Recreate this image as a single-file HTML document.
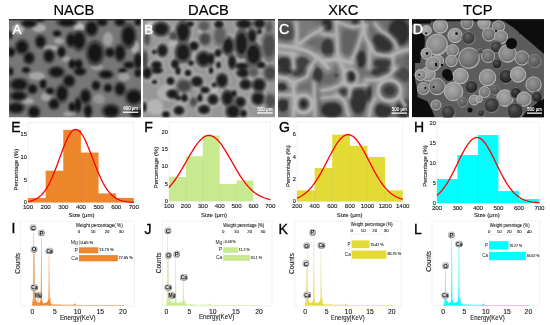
<!DOCTYPE html>
<html><head><meta charset="utf-8"><title>Figure</title>
<style>
html,body{margin:0;padding:0;background:#fff;width:550px;height:325px;overflow:hidden}
svg{display:block}
text{font-family:"Liberation Sans", Arial, sans-serif}
</style></head><body>
<svg width="550" height="325" viewBox="0 0 550 325">
<text x="73.8" y="15.4" font-size="14.7" text-anchor="middle" fill="#000" stroke="#000" stroke-width="0.15">NACB</text>
<text x="208.5" y="15.4" font-size="14.7" text-anchor="middle" fill="#000" stroke="#000" stroke-width="0.15">DACB</text>
<text x="343.3" y="15.4" font-size="14.7" text-anchor="middle" fill="#000" stroke="#000" stroke-width="0.15">XKC</text>
<text x="477.8" y="15.4" font-size="14.7" text-anchor="middle" fill="#000" stroke="#000" stroke-width="0.15">TCP</text>
<defs><filter id="semblur" x="-5%" y="-5%" width="110%" height="110%"><feGaussianBlur stdDeviation="0.9"/></filter><filter id="semnoise" x="0" y="0" width="100%" height="100%"><feTurbulence type="fractalNoise" baseFrequency="0.35" numOctaves="2" seed="3"/><feColorMatrix type="matrix" values="0 0 0 0 0.5  0 0 0 0 0.5  0 0 0 0 0.5  1.2 1.2 0 0 -0.9"/></filter><radialGradient id="sph" cx="42%" cy="38%" r="62%"><stop offset="0" stop-color="#fff" stop-opacity="0.22"/><stop offset="0.5" stop-color="#fff" stop-opacity="0.05"/><stop offset="0.8" stop-color="#000" stop-opacity="0.12"/><stop offset="1" stop-color="#fff" stop-opacity="0.3"/></radialGradient><filter id="semblur2" x="-5%" y="-5%" width="110%" height="110%"><feGaussianBlur stdDeviation="0.45"/></filter></defs>
<clipPath id="clipA"><rect x="0" y="0" width="132" height="98.5"/></clipPath>
<g transform="translate(9,19)"><g clip-path="url(#clipA)">
<rect x="0" y="0" width="132" height="98.5" fill="#767676"/>
<g filter="url(#semblur)">
<ellipse cx="9" cy="10" rx="6" ry="5" fill="#afafaf"/>
<ellipse cx="30" cy="9" rx="7" ry="4" fill="#aaaaaa"/>
<ellipse cx="42" cy="29" rx="7" ry="2.5" fill="#afafaf"/>
<ellipse cx="50" cy="22" rx="5" ry="3" fill="#a5a5a5"/>
<ellipse cx="70" cy="8" rx="5" ry="4" fill="#bebebe"/>
<ellipse cx="99" cy="20" rx="5" ry="7" fill="#a0a0a0"/>
<ellipse cx="126" cy="28" rx="4" ry="7" fill="#afafaf"/>
<ellipse cx="28" cy="57" rx="8" ry="4" fill="#a5a5a5"/>
<ellipse cx="19" cy="82" rx="6" ry="3" fill="#aaaaaa"/>
<ellipse cx="60" cy="95" rx="6" ry="2.5" fill="#a0a0a0"/>
<ellipse cx="90" cy="80" rx="6" ry="5" fill="#969696"/>
<ellipse cx="115" cy="58" rx="6" ry="4" fill="#a0a0a0"/>
<ellipse cx="37" cy="78" rx="5" ry="4" fill="#a5a5a5"/>
<ellipse cx="88" cy="48" rx="6" ry="3" fill="#a0a0a0"/>
<ellipse cx="57" cy="40" rx="4" ry="3" fill="#a0a0a0"/>
<ellipse cx="20" cy="4.5" rx="9.1" ry="4.9" fill="#474747"/>
<ellipse cx="30.5" cy="1" rx="6.3" ry="2.1" fill="#474747"/>
<ellipse cx="58" cy="3.5" rx="11.2" ry="4.9" fill="#474747"/>
<ellipse cx="13" cy="28" rx="7.7" ry="8.4" fill="#474747"/>
<ellipse cx="31.5" cy="22.5" rx="6.3" ry="7.42" fill="#474747"/>
<ellipse cx="2" cy="33" rx="4.9" ry="5.6" fill="#474747"/>
<ellipse cx="20" cy="39" rx="6.3" ry="7" fill="#474747"/>
<ellipse cx="48" cy="14.5" rx="4.9" ry="3.78" fill="#474747"/>
<ellipse cx="62" cy="21" rx="5.6" ry="8.4" fill="#474747"/>
<ellipse cx="40" cy="37" rx="6.3" ry="7.7" fill="#474747"/>
<ellipse cx="52.5" cy="33" rx="4.9" ry="6.3" fill="#474747"/>
<ellipse cx="63" cy="45" rx="4.2" ry="5.6" fill="#474747"/>
<ellipse cx="1.5" cy="16" rx="2.1" ry="4.9" fill="#474747"/>
<ellipse cx="70" cy="21.5" rx="7.7" ry="11.2" fill="#474747"/>
<ellipse cx="82.5" cy="9.5" rx="7.42" ry="8.96" fill="#474747"/>
<ellipse cx="93" cy="3" rx="6.3" ry="4.9" fill="#474747"/>
<ellipse cx="111" cy="3" rx="6.3" ry="4.9" fill="#474747"/>
<ellipse cx="86" cy="34" rx="9.8" ry="13.3" fill="#474747"/>
<ellipse cx="119.5" cy="17" rx="8.4" ry="13.3" fill="#474747"/>
<ellipse cx="101" cy="33.5" rx="5.6" ry="5.6" fill="#474747"/>
<ellipse cx="111" cy="34" rx="6.3" ry="9.8" fill="#474747"/>
<ellipse cx="129" cy="42" rx="4.9" ry="9.8" fill="#474747"/>
<ellipse cx="69.5" cy="45" rx="4.9" ry="5.6" fill="#474747"/>
<ellipse cx="120" cy="46" rx="6.3" ry="4.2" fill="#474747"/>
<ellipse cx="129" cy="3" rx="4.2" ry="4.2" fill="#474747"/>
<ellipse cx="47.5" cy="53" rx="9.1" ry="6.3" fill="#474747"/>
<ellipse cx="10" cy="65.5" rx="10.5" ry="7" fill="#474747"/>
<ellipse cx="9.5" cy="77" rx="9.8" ry="5.6" fill="#474747"/>
<ellipse cx="7" cy="89" rx="9.8" ry="6.3" fill="#474747"/>
<ellipse cx="23.5" cy="70" rx="5.6" ry="5.6" fill="#474747"/>
<ellipse cx="34" cy="65" rx="4.2" ry="5.6" fill="#474747"/>
<ellipse cx="41" cy="72" rx="4.9" ry="4.2" fill="#474747"/>
<ellipse cx="53" cy="74.5" rx="7" ry="9.8" fill="#474747"/>
<ellipse cx="45" cy="85" rx="6.3" ry="6.3" fill="#474747"/>
<ellipse cx="60" cy="62" rx="7" ry="7" fill="#474747"/>
<ellipse cx="63" cy="88" rx="4.2" ry="5.6" fill="#474747"/>
<ellipse cx="25" cy="93" rx="7" ry="7" fill="#474747"/>
<ellipse cx="2" cy="52.5" rx="2.8" ry="4.9" fill="#474747"/>
<ellipse cx="17" cy="51" rx="4.9" ry="3.5" fill="#474747"/>
<ellipse cx="71" cy="52.5" rx="7" ry="4.9" fill="#474747"/>
<ellipse cx="97" cy="55.5" rx="8.4" ry="4.9" fill="#474747"/>
<ellipse cx="87" cy="66.5" rx="4.9" ry="5.6" fill="#474747"/>
<ellipse cx="99" cy="69" rx="4.9" ry="4.9" fill="#474747"/>
<ellipse cx="111" cy="70" rx="6.3" ry="7.7" fill="#474747"/>
<ellipse cx="76.5" cy="77.5" rx="6.3" ry="8.4" fill="#474747"/>
<ellipse cx="69" cy="86" rx="4.2" ry="9.1" fill="#474747"/>
<ellipse cx="79" cy="92" rx="4.9" ry="7.7" fill="#474747"/>
<ellipse cx="102" cy="92" rx="9.8" ry="7.7" fill="#474747"/>
<ellipse cx="125" cy="78" rx="9.8" ry="9.1" fill="#474747"/>
<ellipse cx="113.5" cy="51.5" rx="4.9" ry="2.8" fill="#474747"/>
<ellipse cx="129" cy="54" rx="4.2" ry="4.9" fill="#474747"/>
<ellipse cx="127" cy="94" rx="7" ry="5.6" fill="#474747"/>
<ellipse cx="20" cy="4.5" rx="6.5" ry="3.5" fill="#191919"/>
<ellipse cx="30.5" cy="1" rx="4.5" ry="1.5" fill="#191919"/>
<ellipse cx="58" cy="3.5" rx="8" ry="3.5" fill="#191919"/>
<ellipse cx="13" cy="28" rx="5.5" ry="6" fill="#191919"/>
<ellipse cx="31.5" cy="22.5" rx="4.5" ry="5.3" fill="#191919"/>
<ellipse cx="2" cy="33" rx="3.5" ry="4" fill="#191919"/>
<ellipse cx="20" cy="39" rx="4.5" ry="5" fill="#191919"/>
<ellipse cx="48" cy="14.5" rx="3.5" ry="2.7" fill="#191919"/>
<ellipse cx="62" cy="21" rx="4" ry="6" fill="#191919"/>
<ellipse cx="40" cy="37" rx="4.5" ry="5.5" fill="#191919"/>
<ellipse cx="52.5" cy="33" rx="3.5" ry="4.5" fill="#191919"/>
<ellipse cx="63" cy="45" rx="3" ry="4" fill="#191919"/>
<ellipse cx="1.5" cy="16" rx="1.5" ry="3.5" fill="#191919"/>
<ellipse cx="70" cy="21.5" rx="5.5" ry="8" fill="#191919"/>
<ellipse cx="82.5" cy="9.5" rx="5.3" ry="6.4" fill="#191919"/>
<ellipse cx="93" cy="3" rx="4.5" ry="3.5" fill="#191919"/>
<ellipse cx="111" cy="3" rx="4.5" ry="3.5" fill="#191919"/>
<ellipse cx="86" cy="34" rx="7" ry="9.5" fill="#191919"/>
<ellipse cx="119.5" cy="17" rx="6" ry="9.5" fill="#191919"/>
<ellipse cx="101" cy="33.5" rx="4" ry="4" fill="#191919"/>
<ellipse cx="111" cy="34" rx="4.5" ry="7" fill="#191919"/>
<ellipse cx="129" cy="42" rx="3.5" ry="7" fill="#191919"/>
<ellipse cx="69.5" cy="45" rx="3.5" ry="4" fill="#191919"/>
<ellipse cx="120" cy="46" rx="4.5" ry="3" fill="#191919"/>
<ellipse cx="129" cy="3" rx="3" ry="3" fill="#191919"/>
<ellipse cx="47.5" cy="53" rx="6.5" ry="4.5" fill="#191919"/>
<ellipse cx="10" cy="65.5" rx="7.5" ry="5" fill="#191919"/>
<ellipse cx="9.5" cy="77" rx="7" ry="4" fill="#191919"/>
<ellipse cx="7" cy="89" rx="7" ry="4.5" fill="#191919"/>
<ellipse cx="23.5" cy="70" rx="4" ry="4" fill="#191919"/>
<ellipse cx="34" cy="65" rx="3" ry="4" fill="#191919"/>
<ellipse cx="41" cy="72" rx="3.5" ry="3" fill="#191919"/>
<ellipse cx="53" cy="74.5" rx="5" ry="7" fill="#191919"/>
<ellipse cx="45" cy="85" rx="4.5" ry="4.5" fill="#191919"/>
<ellipse cx="60" cy="62" rx="5" ry="5" fill="#191919"/>
<ellipse cx="63" cy="88" rx="3" ry="4" fill="#191919"/>
<ellipse cx="25" cy="93" rx="5" ry="5" fill="#191919"/>
<ellipse cx="2" cy="52.5" rx="2" ry="3.5" fill="#191919"/>
<ellipse cx="17" cy="51" rx="3.5" ry="2.5" fill="#191919"/>
<ellipse cx="71" cy="52.5" rx="5" ry="3.5" fill="#191919"/>
<ellipse cx="97" cy="55.5" rx="6" ry="3.5" fill="#191919"/>
<ellipse cx="87" cy="66.5" rx="3.5" ry="4" fill="#191919"/>
<ellipse cx="99" cy="69" rx="3.5" ry="3.5" fill="#191919"/>
<ellipse cx="111" cy="70" rx="4.5" ry="5.5" fill="#191919"/>
<ellipse cx="76.5" cy="77.5" rx="4.5" ry="6" fill="#191919"/>
<ellipse cx="69" cy="86" rx="3" ry="6.5" fill="#191919"/>
<ellipse cx="79" cy="92" rx="3.5" ry="5.5" fill="#191919"/>
<ellipse cx="102" cy="92" rx="7" ry="5.5" fill="#191919"/>
<ellipse cx="125" cy="78" rx="7" ry="6.5" fill="#191919"/>
<ellipse cx="113.5" cy="51.5" rx="3.5" ry="2" fill="#191919"/>
<ellipse cx="129" cy="54" rx="3" ry="3.5" fill="#191919"/>
<ellipse cx="127" cy="94" rx="5" ry="4" fill="#191919"/>

</g>
<rect x="0" y="0" width="132" height="1.4" fill="#262626" opacity="0.85"/>
</g>
<text x="3.5" y="14.5" font-size="13.5" fill="#fff" stroke="#fff" stroke-width="0.4">A</text>
<text x="121.65" y="91.4" font-size="4.6" text-anchor="middle" fill="#fff" stroke="#fff" stroke-width="0.12" textLength="14.8" lengthAdjust="spacingAndGlyphs">400 μm</text>
<rect x="114" y="92.6" width="15.3" height="1.25" fill="#fff"/>
</g>
<clipPath id="clipB"><rect x="0" y="0" width="132" height="98.5"/></clipPath>
<g transform="translate(143,19)"><g clip-path="url(#clipB)">
<rect x="0" y="0" width="132" height="98.5" fill="#969696"/>
<g filter="url(#semblur)">
<ellipse cx="8" cy="8" rx="5" ry="6" fill="#c8c8c8"/>
<ellipse cx="60" cy="12" rx="5" ry="3" fill="#bebebe"/>
<ellipse cx="30" cy="24" rx="4" ry="4" fill="#b4b4b4"/>
<ellipse cx="22" cy="74" rx="8" ry="8" fill="#afafaf"/>
<ellipse cx="12" cy="88" rx="8" ry="8" fill="#b4b4b4"/>
<ellipse cx="100" cy="40" rx="4" ry="3" fill="#b9b9b9"/>
<ellipse cx="70" cy="72" rx="5" ry="4" fill="#b9b9b9"/>
<ellipse cx="18" cy="10" rx="10.36" ry="9.2" fill="none" stroke="#c3c3c3" stroke-width="1.3"/>
<ellipse cx="40" cy="13" rx="9.2" ry="13.55" fill="none" stroke="#c3c3c3" stroke-width="1.3"/>
<ellipse cx="47" cy="5" rx="5.43" ry="4.27" fill="none" stroke="#c3c3c3" stroke-width="1.3"/>
<ellipse cx="19.5" cy="31.5" rx="7.02" ry="8.18" fill="none" stroke="#c3c3c3" stroke-width="1.3"/>
<ellipse cx="40" cy="33.5" rx="9.92" ry="12.1" fill="none" stroke="#c3c3c3" stroke-width="1.3"/>
<ellipse cx="51" cy="27" rx="6.3" ry="6.3" fill="none" stroke="#c3c3c3" stroke-width="1.3"/>
<ellipse cx="60.5" cy="40" rx="9.2" ry="9.92" fill="none" stroke="#c3c3c3" stroke-width="1.3"/>
<ellipse cx="13.5" cy="46" rx="7.02" ry="5.58" fill="none" stroke="#c3c3c3" stroke-width="1.3"/>
<ellipse cx="32" cy="45" rx="5.58" ry="6.3" fill="none" stroke="#c3c3c3" stroke-width="1.3"/>
<ellipse cx="48" cy="44" rx="4.12" ry="4.12" fill="none" stroke="#c3c3c3" stroke-width="1.3"/>
<ellipse cx="11" cy="33" rx="3.4" ry="3.69" fill="none" stroke="#c3c3c3" stroke-width="1.3"/>
<ellipse cx="76" cy="5.5" rx="6.3" ry="5.58" fill="none" stroke="#c3c3c3" stroke-width="1.3"/>
<ellipse cx="101" cy="5" rx="9.92" ry="6.3" fill="none" stroke="#c3c3c3" stroke-width="1.3"/>
<ellipse cx="116.5" cy="4.5" rx="7.75" ry="6.3" fill="none" stroke="#c3c3c3" stroke-width="1.3"/>
<ellipse cx="98.5" cy="24.5" rx="8.47" ry="16.45" fill="none" stroke="#c3c3c3" stroke-width="1.3"/>
<ellipse cx="85" cy="27" rx="7.75" ry="11.38" fill="none" stroke="#c3c3c3" stroke-width="1.3"/>
<ellipse cx="109" cy="17" rx="6.01" ry="9.2" fill="none" stroke="#c3c3c3" stroke-width="1.3"/>
<ellipse cx="110.5" cy="35.5" rx="9.92" ry="14.28" fill="none" stroke="#c3c3c3" stroke-width="1.3"/>
<ellipse cx="116.5" cy="12.5" rx="3.69" ry="4.12" fill="none" stroke="#c3c3c3" stroke-width="1.3"/>
<ellipse cx="75" cy="34" rx="4.85" ry="5.58" fill="none" stroke="#c3c3c3" stroke-width="1.3"/>
<ellipse cx="89" cy="43" rx="5.58" ry="9.2" fill="none" stroke="#c3c3c3" stroke-width="1.3"/>
<ellipse cx="68" cy="40" rx="4.85" ry="7.75" fill="none" stroke="#c3c3c3" stroke-width="1.3"/>
<ellipse cx="99" cy="47" rx="9.2" ry="4.85" fill="none" stroke="#c3c3c3" stroke-width="1.3"/>
<ellipse cx="118" cy="46" rx="6.01" ry="4.85" fill="none" stroke="#c3c3c3" stroke-width="1.3"/>
<ellipse cx="75.5" cy="46" rx="3.69" ry="4.85" fill="none" stroke="#c3c3c3" stroke-width="1.3"/>
<ellipse cx="4" cy="54" rx="6.3" ry="7.75" fill="none" stroke="#c3c3c3" stroke-width="1.3"/>
<ellipse cx="14" cy="51.5" rx="7.75" ry="4.85" fill="none" stroke="#c3c3c3" stroke-width="1.3"/>
<ellipse cx="27.5" cy="62" rx="5.58" ry="5.58" fill="none" stroke="#c3c3c3" stroke-width="1.3"/>
<ellipse cx="11.5" cy="63" rx="4.12" ry="3.4" fill="none" stroke="#c3c3c3" stroke-width="1.3"/>
<ellipse cx="29.5" cy="75" rx="7.75" ry="6.3" fill="none" stroke="#c3c3c3" stroke-width="1.3"/>
<ellipse cx="54" cy="62.5" rx="7.75" ry="7.02" fill="none" stroke="#c3c3c3" stroke-width="1.3"/>
<ellipse cx="35" cy="52" rx="4.12" ry="5.58" fill="none" stroke="#c3c3c3" stroke-width="1.3"/>
<ellipse cx="45" cy="54" rx="4.85" ry="4.85" fill="none" stroke="#c3c3c3" stroke-width="1.3"/>
<ellipse cx="35" cy="79" rx="4.27" ry="3.83" fill="none" stroke="#c3c3c3" stroke-width="1.3"/>
<ellipse cx="41.5" cy="79" rx="4.85" ry="5.58" fill="none" stroke="#c3c3c3" stroke-width="1.3"/>
<ellipse cx="57" cy="79" rx="4.12" ry="5.58" fill="none" stroke="#c3c3c3" stroke-width="1.3"/>
<ellipse cx="62" cy="71" rx="6.3" ry="4.85" fill="none" stroke="#c3c3c3" stroke-width="1.3"/>
<ellipse cx="36" cy="91.5" rx="7.02" ry="6.3" fill="none" stroke="#c3c3c3" stroke-width="1.3"/>
<ellipse cx="61" cy="90.5" rx="7.75" ry="6.3" fill="none" stroke="#c3c3c3" stroke-width="1.3"/>
<ellipse cx="1.8" cy="88" rx="3.11" ry="7.02" fill="none" stroke="#c3c3c3" stroke-width="1.3"/>
<ellipse cx="23" cy="95.5" rx="5.58" ry="4.85" fill="none" stroke="#c3c3c3" stroke-width="1.3"/>
<ellipse cx="79" cy="61.5" rx="7.75" ry="9.2" fill="none" stroke="#c3c3c3" stroke-width="1.3"/>
<ellipse cx="100" cy="54" rx="8.47" ry="6.3" fill="none" stroke="#c3c3c3" stroke-width="1.3"/>
<ellipse cx="102.5" cy="65.5" rx="7.75" ry="7.02" fill="none" stroke="#c3c3c3" stroke-width="1.3"/>
<ellipse cx="116" cy="66" rx="8.47" ry="8.47" fill="none" stroke="#c3c3c3" stroke-width="1.3"/>
<ellipse cx="84.5" cy="79" rx="7.75" ry="9.92" fill="none" stroke="#c3c3c3" stroke-width="1.3"/>
<ellipse cx="91" cy="74.5" rx="4.12" ry="4.85" fill="none" stroke="#c3c3c3" stroke-width="1.3"/>
<ellipse cx="97.5" cy="83" rx="7.02" ry="7.02" fill="none" stroke="#c3c3c3" stroke-width="1.3"/>
<ellipse cx="115" cy="79.5" rx="8.47" ry="8.47" fill="none" stroke="#c3c3c3" stroke-width="1.3"/>
<ellipse cx="90" cy="92.5" rx="9.2" ry="9.2" fill="none" stroke="#c3c3c3" stroke-width="1.3"/>
<ellipse cx="70" cy="80.5" rx="7.02" ry="7.02" fill="none" stroke="#c3c3c3" stroke-width="1.3"/>
<ellipse cx="71" cy="66" rx="3.69" ry="3.83" fill="none" stroke="#c3c3c3" stroke-width="1.3"/>
<ellipse cx="68" cy="51.5" rx="3.69" ry="4.85" fill="none" stroke="#c3c3c3" stroke-width="1.3"/>
<ellipse cx="100.5" cy="94.5" rx="4.85" ry="5.58" fill="none" stroke="#c3c3c3" stroke-width="1.3"/>
<ellipse cx="18" cy="10" rx="9.86" ry="8.7" fill="#595959"/>
<ellipse cx="40" cy="13" rx="8.7" ry="13.05" fill="#595959"/>
<ellipse cx="47" cy="5" rx="4.93" ry="3.77" fill="#595959"/>
<ellipse cx="19.5" cy="31.5" rx="6.52" ry="7.68" fill="#595959"/>
<ellipse cx="40" cy="33.5" rx="9.42" ry="11.6" fill="#595959"/>
<ellipse cx="51" cy="27" rx="5.8" ry="5.8" fill="#595959"/>
<ellipse cx="60.5" cy="40" rx="8.7" ry="9.42" fill="#595959"/>
<ellipse cx="62" cy="20" rx="6.52" ry="7.25" fill="#6e6e6e"/>
<ellipse cx="61" cy="7" rx="6.52" ry="5.8" fill="#787878"/>
<ellipse cx="13.5" cy="46" rx="6.52" ry="5.08" fill="#595959"/>
<ellipse cx="32" cy="45" rx="5.08" ry="5.8" fill="#595959"/>
<ellipse cx="48" cy="44" rx="3.62" ry="3.62" fill="#595959"/>
<ellipse cx="4" cy="20" rx="3.62" ry="7.25" fill="#737373"/>
<ellipse cx="11" cy="33" rx="2.9" ry="3.19" fill="#595959"/>
<ellipse cx="30.5" cy="17" rx="5.08" ry="5.08" fill="#737373"/>
<ellipse cx="2" cy="41" rx="3.19" ry="11.6" fill="#6e6e6e"/>
<ellipse cx="76" cy="5.5" rx="5.8" ry="5.08" fill="#595959"/>
<ellipse cx="101" cy="5" rx="9.42" ry="5.8" fill="#595959"/>
<ellipse cx="116.5" cy="4.5" rx="7.25" ry="5.8" fill="#595959"/>
<ellipse cx="98.5" cy="24.5" rx="7.97" ry="15.95" fill="#595959"/>
<ellipse cx="85" cy="27" rx="7.25" ry="10.88" fill="#595959"/>
<ellipse cx="109" cy="17" rx="5.51" ry="8.7" fill="#595959"/>
<ellipse cx="110.5" cy="35.5" rx="9.42" ry="13.78" fill="#595959"/>
<ellipse cx="116.5" cy="12.5" rx="3.19" ry="3.62" fill="#595959"/>
<ellipse cx="126" cy="27" rx="7.97" ry="15.95" fill="#707070"/>
<ellipse cx="75" cy="34" rx="4.35" ry="5.08" fill="#595959"/>
<ellipse cx="89" cy="43" rx="5.08" ry="8.7" fill="#595959"/>
<ellipse cx="68" cy="40" rx="4.35" ry="7.25" fill="#595959"/>
<ellipse cx="99" cy="47" rx="8.7" ry="4.35" fill="#595959"/>
<ellipse cx="118" cy="46" rx="5.51" ry="4.35" fill="#595959"/>
<ellipse cx="77" cy="17" rx="7.25" ry="11.6" fill="#7a7a7a"/>
<ellipse cx="126" cy="8" rx="4.35" ry="7.25" fill="#787878"/>
<ellipse cx="75.5" cy="46" rx="3.19" ry="4.35" fill="#595959"/>
<ellipse cx="4" cy="54" rx="5.8" ry="7.25" fill="#595959"/>
<ellipse cx="14" cy="51.5" rx="7.25" ry="4.35" fill="#595959"/>
<ellipse cx="27.5" cy="62" rx="5.08" ry="5.08" fill="#595959"/>
<ellipse cx="11.5" cy="63" rx="3.62" ry="2.9" fill="#595959"/>
<ellipse cx="29.5" cy="75" rx="7.25" ry="5.8" fill="#595959"/>
<ellipse cx="41" cy="67" rx="8.7" ry="7.25" fill="#6e6e6e"/>
<ellipse cx="54" cy="62.5" rx="7.25" ry="6.52" fill="#595959"/>
<ellipse cx="35" cy="52" rx="3.62" ry="5.08" fill="#595959"/>
<ellipse cx="45" cy="54" rx="4.35" ry="4.35" fill="#595959"/>
<ellipse cx="35" cy="79" rx="3.77" ry="3.33" fill="#595959"/>
<ellipse cx="41.5" cy="79" rx="4.35" ry="5.08" fill="#595959"/>
<ellipse cx="57" cy="79" rx="3.62" ry="5.08" fill="#595959"/>
<ellipse cx="62" cy="71" rx="5.8" ry="4.35" fill="#595959"/>
<ellipse cx="36" cy="91.5" rx="6.52" ry="5.8" fill="#595959"/>
<ellipse cx="61" cy="90.5" rx="7.25" ry="5.8" fill="#595959"/>
<ellipse cx="1.8" cy="88" rx="2.61" ry="6.52" fill="#595959"/>
<ellipse cx="23" cy="95.5" rx="5.08" ry="4.35" fill="#595959"/>
<ellipse cx="50.5" cy="83" rx="4.35" ry="5.51" fill="#737373"/>
<ellipse cx="79" cy="61.5" rx="7.25" ry="8.7" fill="#595959"/>
<ellipse cx="100" cy="54" rx="7.97" ry="5.8" fill="#595959"/>
<ellipse cx="102.5" cy="65.5" rx="7.25" ry="6.52" fill="#595959"/>
<ellipse cx="116" cy="66" rx="7.97" ry="7.97" fill="#595959"/>
<ellipse cx="84.5" cy="79" rx="7.25" ry="9.42" fill="#595959"/>
<ellipse cx="91" cy="74.5" rx="3.62" ry="4.35" fill="#595959"/>
<ellipse cx="97.5" cy="83" rx="6.52" ry="6.52" fill="#595959"/>
<ellipse cx="115" cy="79.5" rx="7.97" ry="7.97" fill="#595959"/>
<ellipse cx="90" cy="92.5" rx="8.7" ry="8.7" fill="#595959"/>
<ellipse cx="70" cy="80.5" rx="6.52" ry="6.52" fill="#595959"/>
<ellipse cx="71" cy="66" rx="3.19" ry="3.33" fill="#595959"/>
<ellipse cx="127" cy="54" rx="7.25" ry="8.7" fill="#6e6e6e"/>
<ellipse cx="127.5" cy="82" rx="6.52" ry="8.7" fill="#737373"/>
<ellipse cx="68" cy="51.5" rx="3.19" ry="4.35" fill="#595959"/>
<ellipse cx="100.5" cy="94.5" rx="4.35" ry="5.08" fill="#595959"/>
<ellipse cx="110.5" cy="53" rx="5.51" ry="5.51" fill="#787878"/>
<ellipse cx="18" cy="10" rx="6.8" ry="6" fill="#1c1c1c"/>
<ellipse cx="40" cy="13" rx="6" ry="9" fill="#1c1c1c"/>
<ellipse cx="47" cy="5" rx="3.4" ry="2.6" fill="#1c1c1c"/>
<ellipse cx="19.5" cy="31.5" rx="4.5" ry="5.3" fill="#1c1c1c"/>
<ellipse cx="40" cy="33.5" rx="6.5" ry="8" fill="#1c1c1c"/>
<ellipse cx="51" cy="27" rx="4" ry="4" fill="#1c1c1c"/>
<ellipse cx="60.5" cy="40" rx="6" ry="6.5" fill="#1c1c1c"/>
<ellipse cx="62" cy="20" rx="4.5" ry="5" fill="#464646"/>
<ellipse cx="61" cy="7" rx="4.5" ry="4" fill="#5a5a5a"/>
<ellipse cx="13.5" cy="46" rx="4.5" ry="3.5" fill="#1c1c1c"/>
<ellipse cx="32" cy="45" rx="3.5" ry="4" fill="#1c1c1c"/>
<ellipse cx="48" cy="44" rx="2.5" ry="2.5" fill="#1c1c1c"/>
<ellipse cx="4" cy="20" rx="2.5" ry="5" fill="#505050"/>
<ellipse cx="11" cy="33" rx="2" ry="2.2" fill="#1c1c1c"/>
<ellipse cx="30.5" cy="17" rx="3.5" ry="3.5" fill="#505050"/>
<ellipse cx="2" cy="41" rx="2.2" ry="8" fill="#464646"/>
<ellipse cx="76" cy="5.5" rx="4" ry="3.5" fill="#1c1c1c"/>
<ellipse cx="101" cy="5" rx="6.5" ry="4" fill="#1c1c1c"/>
<ellipse cx="116.5" cy="4.5" rx="5" ry="4" fill="#1c1c1c"/>
<ellipse cx="98.5" cy="24.5" rx="5.5" ry="11" fill="#1c1c1c"/>
<ellipse cx="85" cy="27" rx="5" ry="7.5" fill="#1c1c1c"/>
<ellipse cx="109" cy="17" rx="3.8" ry="6" fill="#1c1c1c"/>
<ellipse cx="110.5" cy="35.5" rx="6.5" ry="9.5" fill="#1c1c1c"/>
<ellipse cx="116.5" cy="12.5" rx="2.2" ry="2.5" fill="#1c1c1c"/>
<ellipse cx="126" cy="27" rx="5.5" ry="11" fill="#4b4b4b"/>
<ellipse cx="75" cy="34" rx="3" ry="3.5" fill="#1c1c1c"/>
<ellipse cx="89" cy="43" rx="3.5" ry="6" fill="#1c1c1c"/>
<ellipse cx="68" cy="40" rx="3" ry="5" fill="#1c1c1c"/>
<ellipse cx="99" cy="47" rx="6" ry="3" fill="#1c1c1c"/>
<ellipse cx="118" cy="46" rx="3.8" ry="3" fill="#1c1c1c"/>
<ellipse cx="77" cy="17" rx="5" ry="8" fill="#5f5f5f"/>
<ellipse cx="126" cy="8" rx="3" ry="5" fill="#5a5a5a"/>
<ellipse cx="75.5" cy="46" rx="2.2" ry="3" fill="#1c1c1c"/>
<ellipse cx="4" cy="54" rx="4" ry="5" fill="#1c1c1c"/>
<ellipse cx="14" cy="51.5" rx="5" ry="3" fill="#1c1c1c"/>
<ellipse cx="27.5" cy="62" rx="3.5" ry="3.5" fill="#1c1c1c"/>
<ellipse cx="11.5" cy="63" rx="2.5" ry="2" fill="#1c1c1c"/>
<ellipse cx="29.5" cy="75" rx="5" ry="4" fill="#1c1c1c"/>
<ellipse cx="41" cy="67" rx="6" ry="5" fill="#464646"/>
<ellipse cx="54" cy="62.5" rx="5" ry="4.5" fill="#1c1c1c"/>
<ellipse cx="35" cy="52" rx="2.5" ry="3.5" fill="#1c1c1c"/>
<ellipse cx="45" cy="54" rx="3" ry="3" fill="#1c1c1c"/>
<ellipse cx="35" cy="79" rx="2.6" ry="2.3" fill="#1c1c1c"/>
<ellipse cx="41.5" cy="79" rx="3" ry="3.5" fill="#1c1c1c"/>
<ellipse cx="57" cy="79" rx="2.5" ry="3.5" fill="#1c1c1c"/>
<ellipse cx="62" cy="71" rx="4" ry="3" fill="#1c1c1c"/>
<ellipse cx="36" cy="91.5" rx="4.5" ry="4" fill="#1c1c1c"/>
<ellipse cx="61" cy="90.5" rx="5" ry="4" fill="#1c1c1c"/>
<ellipse cx="1.8" cy="88" rx="1.8" ry="4.5" fill="#1c1c1c"/>
<ellipse cx="23" cy="95.5" rx="3.5" ry="3" fill="#1c1c1c"/>
<ellipse cx="50.5" cy="83" rx="3" ry="3.8" fill="#505050"/>
<ellipse cx="79" cy="61.5" rx="5" ry="6" fill="#1c1c1c"/>
<ellipse cx="100" cy="54" rx="5.5" ry="4" fill="#1c1c1c"/>
<ellipse cx="102.5" cy="65.5" rx="5" ry="4.5" fill="#1c1c1c"/>
<ellipse cx="116" cy="66" rx="5.5" ry="5.5" fill="#1c1c1c"/>
<ellipse cx="84.5" cy="79" rx="5" ry="6.5" fill="#1c1c1c"/>
<ellipse cx="91" cy="74.5" rx="2.5" ry="3" fill="#1c1c1c"/>
<ellipse cx="97.5" cy="83" rx="4.5" ry="4.5" fill="#1c1c1c"/>
<ellipse cx="115" cy="79.5" rx="5.5" ry="5.5" fill="#1c1c1c"/>
<ellipse cx="90" cy="92.5" rx="6" ry="6" fill="#1c1c1c"/>
<ellipse cx="70" cy="80.5" rx="4.5" ry="4.5" fill="#1c1c1c"/>
<ellipse cx="71" cy="66" rx="2.2" ry="2.3" fill="#1c1c1c"/>
<ellipse cx="127" cy="54" rx="5" ry="6" fill="#464646"/>
<ellipse cx="127.5" cy="82" rx="4.5" ry="6" fill="#505050"/>
<ellipse cx="68" cy="51.5" rx="2.2" ry="3" fill="#1c1c1c"/>
<ellipse cx="100.5" cy="94.5" rx="3" ry="3.5" fill="#1c1c1c"/>
<ellipse cx="110.5" cy="53" rx="3.8" ry="3.8" fill="#5a5a5a"/>

</g>
<rect x="0" y="0" width="132" height="1.4" fill="#262626" opacity="0.85"/>
</g>
<text x="1.3" y="14.5" font-size="13.5" fill="#fff" stroke="#fff" stroke-width="0.4">B</text>
<text x="121.9" y="92.1" font-size="4.6" text-anchor="middle" fill="#fff" stroke="#fff" stroke-width="0.12" textLength="14.9" lengthAdjust="spacingAndGlyphs">500 μm</text>
<rect x="114.2" y="93.3" width="15.4" height="1.25" fill="#fff"/>
</g>
<clipPath id="clipC"><rect x="0" y="0" width="131" height="98.5"/></clipPath>
<g transform="translate(278,19)"><g clip-path="url(#clipC)">
<rect x="0" y="0" width="131" height="98.5" fill="#6e6e6e"/>
<g filter="url(#semblur)">
<ellipse cx="8" cy="13" rx="10.2" ry="12" fill="#616161"/>
<ellipse cx="49" cy="6" rx="6.6" ry="7.2" fill="#515151"/>
<ellipse cx="50" cy="29" rx="7.2" ry="10.8" fill="#565656"/>
<ellipse cx="7" cy="44" rx="9" ry="7.2" fill="#545454"/>
<ellipse cx="24" cy="44" rx="8.4" ry="7.2" fill="#5b5b5b"/>
<ellipse cx="30" cy="20" rx="9.6" ry="6" fill="#6e6e6e"/>
<ellipse cx="28" cy="8" rx="10.8" ry="7.2" fill="#797979"/>
<ellipse cx="38" cy="43" rx="6" ry="6" fill="#696969"/>
<ellipse cx="72" cy="24" rx="12" ry="16.8" fill="#6e6e6e"/>
<ellipse cx="83" cy="40" rx="6" ry="9.6" fill="#515151"/>
<ellipse cx="81" cy="3" rx="8.4" ry="4.8" fill="#515151"/>
<ellipse cx="104" cy="25" rx="12" ry="12.6" fill="#545454"/>
<ellipse cx="121" cy="13" rx="12" ry="15.6" fill="#515151"/>
<ellipse cx="105" cy="44" rx="10.8" ry="6" fill="#565656"/>
<ellipse cx="129" cy="40" rx="3.6" ry="9.6" fill="#6e6e6e"/>
<ellipse cx="7" cy="52" rx="8.4" ry="4.8" fill="#545454"/>
<ellipse cx="22" cy="53" rx="8.4" ry="6" fill="#595959"/>
<ellipse cx="40" cy="56" rx="6" ry="8.4" fill="#565656"/>
<ellipse cx="4" cy="68" rx="5.4" ry="5.4" fill="#545454"/>
<ellipse cx="5" cy="86" rx="6" ry="7.8" fill="#545454"/>
<ellipse cx="25.5" cy="85" rx="6" ry="6.6" fill="#4c4c4c"/>
<ellipse cx="40" cy="80" rx="3.6" ry="12" fill="#6e6e6e"/>
<ellipse cx="72.6" cy="58.3" rx="7.2" ry="8.76" fill="#4e4e4e"/>
<ellipse cx="65.8" cy="72.7" rx="6.24" ry="5.88" fill="#545454"/>
<ellipse cx="80.3" cy="80.5" rx="9.6" ry="16.2" fill="#545454"/>
<ellipse cx="53.8" cy="91" rx="12" ry="8.4" fill="#515151"/>
<ellipse cx="52" cy="58" rx="8.4" ry="9.6" fill="#707070"/>
<ellipse cx="58.3" cy="56.2" rx="1.8" ry="1.8" fill="#4e4e4e"/>
<ellipse cx="104" cy="53.5" rx="12" ry="6" fill="#565656"/>
<ellipse cx="124" cy="56" rx="9.6" ry="8.4" fill="#5e5e5e"/>
<ellipse cx="91" cy="75" rx="3.6" ry="9.6" fill="#545454"/>
<ellipse cx="105" cy="91" rx="9.6" ry="8.4" fill="#545454"/>
<ellipse cx="125" cy="89" rx="8.4" ry="10.8" fill="#515151"/>
<ellipse cx="111.4" cy="71.5" rx="11.4" ry="10.2" fill="#565656"/>
<ellipse cx="8" cy="13" rx="8.5" ry="10" fill="#4b4b4b"/>
<ellipse cx="49" cy="6" rx="5.5" ry="6" fill="#2d2d2d"/>
<ellipse cx="50" cy="29" rx="6" ry="9" fill="#373737"/>
<ellipse cx="7" cy="44" rx="7.5" ry="6" fill="#323232"/>
<ellipse cx="24" cy="44" rx="7" ry="6" fill="#414141"/>
<ellipse cx="30" cy="20" rx="8" ry="5" fill="#646464"/>
<ellipse cx="28" cy="8" rx="9" ry="6" fill="#7a7a7a"/>
<ellipse cx="38" cy="43" rx="5" ry="5" fill="#5a5a5a"/>
<ellipse cx="72" cy="24" rx="10" ry="14" fill="#646464"/>
<ellipse cx="83" cy="40" rx="5" ry="8" fill="#2d2d2d"/>
<ellipse cx="81" cy="3" rx="7" ry="4" fill="#2d2d2d"/>
<ellipse cx="104" cy="25" rx="10" ry="10.5" fill="#323232"/>
<ellipse cx="121" cy="13" rx="10" ry="13" fill="#2d2d2d"/>
<ellipse cx="105" cy="44" rx="9" ry="5" fill="#373737"/>
<ellipse cx="129" cy="40" rx="3" ry="8" fill="#646464"/>
<ellipse cx="7" cy="52" rx="7" ry="4" fill="#323232"/>
<ellipse cx="22" cy="53" rx="7" ry="5" fill="#3c3c3c"/>
<ellipse cx="40" cy="56" rx="5" ry="7" fill="#373737"/>
<ellipse cx="4" cy="68" rx="4.5" ry="4.5" fill="#323232"/>
<ellipse cx="5" cy="86" rx="5" ry="6.5" fill="#323232"/>
<ellipse cx="25.5" cy="85" rx="5" ry="5.5" fill="#232323"/>
<ellipse cx="40" cy="80" rx="3" ry="10" fill="#646464"/>
<ellipse cx="72.6" cy="58.3" rx="6" ry="7.3" fill="#282828"/>
<ellipse cx="65.8" cy="72.7" rx="5.2" ry="4.9" fill="#323232"/>
<ellipse cx="80.3" cy="80.5" rx="8" ry="13.5" fill="#323232"/>
<ellipse cx="53.8" cy="91" rx="10" ry="7" fill="#2d2d2d"/>
<ellipse cx="52" cy="58" rx="7" ry="8" fill="#696969"/>
<ellipse cx="58.3" cy="56.2" rx="1.5" ry="1.5" fill="#282828"/>
<ellipse cx="104" cy="53.5" rx="10" ry="5" fill="#373737"/>
<ellipse cx="124" cy="56" rx="8" ry="7" fill="#464646"/>
<ellipse cx="91" cy="75" rx="3" ry="8" fill="#323232"/>
<ellipse cx="105" cy="91" rx="8" ry="7" fill="#323232"/>
<ellipse cx="125" cy="89" rx="7" ry="9" fill="#2d2d2d"/>
<ellipse cx="111.4" cy="71.5" rx="9.5" ry="8.5" fill="#373737"/>
<polyline points="0,26.4 15,27.9 30,32.4 39,37.7 45,43.7 50,49" fill="none" stroke="#b6b6b6" stroke-width="12.8" stroke-linecap="round" stroke-linejoin="round" opacity="0.3"/>
<polyline points="18,3 19,15 18,24" fill="none" stroke="#b6b6b6" stroke-width="8.0" stroke-linecap="round" stroke-linejoin="round" opacity="0.3"/>
<polyline points="21,25 30,18 40.7,12 44,9" fill="none" stroke="#b6b6b6" stroke-width="9.600000000000001" stroke-linecap="round" stroke-linejoin="round" opacity="0.3"/>
<polyline points="0,33 18,35.5" fill="none" stroke="#b6b6b6" stroke-width="9.600000000000001" stroke-linecap="round" stroke-linejoin="round" opacity="0.3"/>
<polyline points="14,35 16,49" fill="none" stroke="#b6b6b6" stroke-width="8.0" stroke-linecap="round" stroke-linejoin="round" opacity="0.3"/>
<polyline points="58,0 59,20 60,39" fill="none" stroke="#b6b6b6" stroke-width="9.600000000000001" stroke-linecap="round" stroke-linejoin="round" opacity="0.3"/>
<polyline points="44,42 60,40 74,44" fill="none" stroke="#b6b6b6" stroke-width="12.8" stroke-linecap="round" stroke-linejoin="round" opacity="0.3"/>
<polyline points="86,8 84.7,12 78.7,30 72.6,43.7" fill="none" stroke="#b6b6b6" stroke-width="8.0" stroke-linecap="round" stroke-linejoin="round" opacity="0.3"/>
<polyline points="60,3 68,6 75,8 88,6" fill="none" stroke="#b6b6b6" stroke-width="8.0" stroke-linecap="round" stroke-linejoin="round" opacity="0.3"/>
<polyline points="44,15 56,16.6" fill="none" stroke="#b6b6b6" stroke-width="8.0" stroke-linecap="round" stroke-linejoin="round" opacity="0.3"/>
<polyline points="84,0 88,19.6 92.5,27 97,34.7 103,36 112,37 118,34.7 124,32.4 132,30" fill="none" stroke="#b6b6b6" stroke-width="9.600000000000001" stroke-linecap="round" stroke-linejoin="round" opacity="0.3"/>
<polyline points="97,4.5 103,12 110.6,16.6 116.6,22.6 119.6,30" fill="none" stroke="#b6b6b6" stroke-width="8.0" stroke-linecap="round" stroke-linejoin="round" opacity="0.3"/>
<polyline points="92,27 91,49" fill="none" stroke="#b6b6b6" stroke-width="8.0" stroke-linecap="round" stroke-linejoin="round" opacity="0.3"/>
<polyline points="115,36 115,49" fill="none" stroke="#b6b6b6" stroke-width="7.040000000000001" stroke-linecap="round" stroke-linejoin="round" opacity="0.3"/>
<polyline points="0,58 9,59.5 15,64" fill="none" stroke="#b6b6b6" stroke-width="11.200000000000001" stroke-linecap="round" stroke-linejoin="round" opacity="0.3"/>
<polyline points="15,64 28.6,58 32.4,49" fill="none" stroke="#b6b6b6" stroke-width="9.600000000000001" stroke-linecap="round" stroke-linejoin="round" opacity="0.3"/>
<polyline points="15,64 16.6,79 15,98" fill="none" stroke="#b6b6b6" stroke-width="9.600000000000001" stroke-linecap="round" stroke-linejoin="round" opacity="0.3"/>
<polyline points="0,76 15,76" fill="none" stroke="#b6b6b6" stroke-width="9.600000000000001" stroke-linecap="round" stroke-linejoin="round" opacity="0.3"/>
<polyline points="36,64 37,98" fill="none" stroke="#b6b6b6" stroke-width="8.0" stroke-linecap="round" stroke-linejoin="round" opacity="0.3"/>
<ellipse cx="25.5" cy="85" rx="8.5" ry="9" fill="none" stroke="#b6b6b6" stroke-width="11.200000000000001" opacity="0.3"/>
<polyline points="44,71.6 53,70 60.6,67 66.6,61 65,49" fill="none" stroke="#b6b6b6" stroke-width="9.600000000000001" stroke-linecap="round" stroke-linejoin="round" opacity="0.3"/>
<polyline points="66.6,65.6 72.6,67 88,65.6" fill="none" stroke="#b6b6b6" stroke-width="9.600000000000001" stroke-linecap="round" stroke-linejoin="round" opacity="0.3"/>
<polyline points="59,76 66.6,82 71,98" fill="none" stroke="#b6b6b6" stroke-width="9.600000000000001" stroke-linecap="round" stroke-linejoin="round" opacity="0.3"/>
<polyline points="71,77.6 72.6,67" fill="none" stroke="#b6b6b6" stroke-width="8.0" stroke-linecap="round" stroke-linejoin="round" opacity="0.3"/>
<polyline points="44,79 59,77.6" fill="none" stroke="#b6b6b6" stroke-width="8.0" stroke-linecap="round" stroke-linejoin="round" opacity="0.3"/>
<ellipse cx="72.6" cy="58.3" rx="7" ry="8.3" fill="none" stroke="#b6b6b6" stroke-width="6.4" opacity="0.3"/>
<polyline points="88,61 100,61 110.6,56.5 118,49" fill="none" stroke="#b6b6b6" stroke-width="9.600000000000001" stroke-linecap="round" stroke-linejoin="round" opacity="0.3"/>
<ellipse cx="111.4" cy="71.5" rx="11.3" ry="10.5" fill="none" stroke="#b6b6b6" stroke-width="11.200000000000001" opacity="0.3"/>
<polyline points="97,79 92.5,88 91,98" fill="none" stroke="#b6b6b6" stroke-width="9.600000000000001" stroke-linecap="round" stroke-linejoin="round" opacity="0.3"/>
<polyline points="122.7,79 127,86.7" fill="none" stroke="#b6b6b6" stroke-width="8.0" stroke-linecap="round" stroke-linejoin="round" opacity="0.3"/>
<polyline points="60,39 65,49" fill="none" stroke="#b6b6b6" stroke-width="9.600000000000001" stroke-linecap="round" stroke-linejoin="round" opacity="0.3"/>
<polyline points="32.4,49 39,37.7" fill="none" stroke="#b6b6b6" stroke-width="8.0" stroke-linecap="round" stroke-linejoin="round" opacity="0.3"/>
<polyline points="0,26.4 15,27.9 30,32.4 39,37.7 45,43.7 50,49" fill="none" stroke="#b6b6b6" stroke-width="4" stroke-linecap="round" stroke-linejoin="round"/>
<polyline points="18,3 19,15 18,24" fill="none" stroke="#b6b6b6" stroke-width="2.5" stroke-linecap="round" stroke-linejoin="round"/>
<polyline points="21,25 30,18 40.7,12 44,9" fill="none" stroke="#b6b6b6" stroke-width="3" stroke-linecap="round" stroke-linejoin="round"/>
<polyline points="0,33 18,35.5" fill="none" stroke="#b6b6b6" stroke-width="3" stroke-linecap="round" stroke-linejoin="round"/>
<polyline points="14,35 16,49" fill="none" stroke="#b6b6b6" stroke-width="2.5" stroke-linecap="round" stroke-linejoin="round"/>
<polyline points="58,0 59,20 60,39" fill="none" stroke="#b6b6b6" stroke-width="3" stroke-linecap="round" stroke-linejoin="round"/>
<polyline points="44,42 60,40 74,44" fill="none" stroke="#b6b6b6" stroke-width="4" stroke-linecap="round" stroke-linejoin="round"/>
<polyline points="86,8 84.7,12 78.7,30 72.6,43.7" fill="none" stroke="#b6b6b6" stroke-width="2.5" stroke-linecap="round" stroke-linejoin="round"/>
<polyline points="60,3 68,6 75,8 88,6" fill="none" stroke="#b6b6b6" stroke-width="2.5" stroke-linecap="round" stroke-linejoin="round"/>
<polyline points="44,15 56,16.6" fill="none" stroke="#b6b6b6" stroke-width="2.5" stroke-linecap="round" stroke-linejoin="round"/>
<polyline points="84,0 88,19.6 92.5,27 97,34.7 103,36 112,37 118,34.7 124,32.4 132,30" fill="none" stroke="#b6b6b6" stroke-width="3" stroke-linecap="round" stroke-linejoin="round"/>
<polyline points="97,4.5 103,12 110.6,16.6 116.6,22.6 119.6,30" fill="none" stroke="#b6b6b6" stroke-width="2.5" stroke-linecap="round" stroke-linejoin="round"/>
<polyline points="92,27 91,49" fill="none" stroke="#b6b6b6" stroke-width="2.5" stroke-linecap="round" stroke-linejoin="round"/>
<polyline points="115,36 115,49" fill="none" stroke="#b6b6b6" stroke-width="2.2" stroke-linecap="round" stroke-linejoin="round"/>
<polyline points="0,58 9,59.5 15,64" fill="none" stroke="#b6b6b6" stroke-width="3.5" stroke-linecap="round" stroke-linejoin="round"/>
<polyline points="15,64 28.6,58 32.4,49" fill="none" stroke="#b6b6b6" stroke-width="3" stroke-linecap="round" stroke-linejoin="round"/>
<polyline points="15,64 16.6,79 15,98" fill="none" stroke="#b6b6b6" stroke-width="3" stroke-linecap="round" stroke-linejoin="round"/>
<polyline points="0,76 15,76" fill="none" stroke="#b6b6b6" stroke-width="3" stroke-linecap="round" stroke-linejoin="round"/>
<polyline points="36,64 37,98" fill="none" stroke="#b6b6b6" stroke-width="2.5" stroke-linecap="round" stroke-linejoin="round"/>
<ellipse cx="25.5" cy="85" rx="8.5" ry="9" fill="none" stroke="#b6b6b6" stroke-width="3.5"/>
<polyline points="44,71.6 53,70 60.6,67 66.6,61 65,49" fill="none" stroke="#b6b6b6" stroke-width="3" stroke-linecap="round" stroke-linejoin="round"/>
<polyline points="66.6,65.6 72.6,67 88,65.6" fill="none" stroke="#b6b6b6" stroke-width="3" stroke-linecap="round" stroke-linejoin="round"/>
<polyline points="59,76 66.6,82 71,98" fill="none" stroke="#b6b6b6" stroke-width="3" stroke-linecap="round" stroke-linejoin="round"/>
<polyline points="71,77.6 72.6,67" fill="none" stroke="#b6b6b6" stroke-width="2.5" stroke-linecap="round" stroke-linejoin="round"/>
<polyline points="44,79 59,77.6" fill="none" stroke="#b6b6b6" stroke-width="2.5" stroke-linecap="round" stroke-linejoin="round"/>
<ellipse cx="72.6" cy="58.3" rx="7" ry="8.3" fill="none" stroke="#b6b6b6" stroke-width="2"/>
<polyline points="88,61 100,61 110.6,56.5 118,49" fill="none" stroke="#b6b6b6" stroke-width="3" stroke-linecap="round" stroke-linejoin="round"/>
<ellipse cx="111.4" cy="71.5" rx="11.3" ry="10.5" fill="none" stroke="#b6b6b6" stroke-width="3.5"/>
<polyline points="97,79 92.5,88 91,98" fill="none" stroke="#b6b6b6" stroke-width="3" stroke-linecap="round" stroke-linejoin="round"/>
<polyline points="122.7,79 127,86.7" fill="none" stroke="#b6b6b6" stroke-width="2.5" stroke-linecap="round" stroke-linejoin="round"/>
<polyline points="60,39 65,49" fill="none" stroke="#b6b6b6" stroke-width="3" stroke-linecap="round" stroke-linejoin="round"/>
<polyline points="32.4,49 39,37.7" fill="none" stroke="#b6b6b6" stroke-width="2.5" stroke-linecap="round" stroke-linejoin="round"/>

</g>
<rect x="0" y="0" width="131" height="1.4" fill="#262626" opacity="0.85"/>
</g>
<text x="1.0" y="14.6" font-size="14.2" fill="#fff" stroke="#fff" stroke-width="0.4">C</text>
<text x="121.25" y="92.3" font-size="4.6" text-anchor="middle" fill="#fff" stroke="#fff" stroke-width="0.12" textLength="15" lengthAdjust="spacingAndGlyphs">500 μm</text>
<rect x="113.5" y="93.5" width="15.5" height="1.25" fill="#fff"/>
</g>
<clipPath id="clipD"><rect x="0" y="0" width="132" height="98.5"/></clipPath>
<g transform="translate(412,19)"><g clip-path="url(#clipD)">
<rect x="0" y="0" width="132" height="98.5" fill="#5c5c5c"/>
<g filter="url(#semblur2)">
<polygon points="88.6,0 132,0 132,34.7 126.3,30 114,19.6 102,9" fill="#0c0c0c"/>
<polygon points="0,14 12,14 13,22 12,30 9,38 8,44 0,44" fill="#0c0c0c"/>
<polygon points="0,43 3,43 3,60 5,70 5.5,78 10,80 15.5,82.5 20.6,92.8 22.6,98 0,98" fill="#0c0c0c"/>
<polygon points="0,0 132,0 132,2.3 0,2.3" fill="#0c0c0c"/>
<polygon points="0,0 20,0 18,4.5 9,4.5 0,6" fill="#0c0c0c"/>
<circle cx="14.5" cy="11.4" r="5.18" fill="#9d9d9d"/>
<circle cx="14.5" cy="11.4" r="5.18" fill="url(#sph)"/>
<circle cx="14.5" cy="11.4" r="4.68" fill="none" stroke="#c3c3c3" stroke-width="0.9" opacity="0.85"/>
<circle cx="28.5" cy="7" r="7.56" fill="#919191"/>
<circle cx="28.5" cy="7" r="7.56" fill="url(#sph)"/>
<circle cx="28.5" cy="7" r="7.06" fill="none" stroke="#c3c3c3" stroke-width="0.9" opacity="0.85"/>
<circle cx="25" cy="25.5" r="10.8" fill="#898989"/>
<circle cx="25" cy="25.5" r="10.8" fill="url(#sph)"/>
<circle cx="25" cy="25.5" r="10.3" fill="none" stroke="#c3c3c3" stroke-width="0.9" opacity="0.85"/>
<circle cx="43" cy="16.5" r="7.56" fill="#919191"/>
<circle cx="43" cy="16.5" r="7.56" fill="url(#sph)"/>
<circle cx="43" cy="16.5" r="7.06" fill="none" stroke="#c3c3c3" stroke-width="0.9" opacity="0.85"/>
<circle cx="56.5" cy="19" r="7.02" fill="#3c3c3c"/>
<circle cx="56.5" cy="19" r="7.02" fill="url(#sph)"/>
<circle cx="56.5" cy="19" r="6.52" fill="none" stroke="#8c8c8c" stroke-width="0.9" opacity="0.85"/>
<circle cx="57" cy="39" r="10.8" fill="#717171"/>
<circle cx="57" cy="39" r="10.8" fill="url(#sph)"/>
<circle cx="57" cy="39" r="10.3" fill="none" stroke="#c3c3c3" stroke-width="0.9" opacity="0.85"/>
<circle cx="40.5" cy="31.5" r="6.48" fill="#818181"/>
<circle cx="40.5" cy="31.5" r="6.48" fill="url(#sph)"/>
<circle cx="40.5" cy="31.5" r="5.98" fill="none" stroke="#c3c3c3" stroke-width="0.9" opacity="0.85"/>
<circle cx="25.5" cy="42" r="6.48" fill="#898989"/>
<circle cx="25.5" cy="42" r="6.48" fill="url(#sph)"/>
<circle cx="25.5" cy="42" r="5.98" fill="none" stroke="#c3c3c3" stroke-width="0.9" opacity="0.85"/>
<circle cx="39.5" cy="42" r="6.16" fill="#818181"/>
<circle cx="39.5" cy="42" r="6.16" fill="url(#sph)"/>
<circle cx="39.5" cy="42" r="5.66" fill="none" stroke="#c3c3c3" stroke-width="0.9" opacity="0.85"/>
<circle cx="14.5" cy="34.5" r="5.94" fill="#919191"/>
<circle cx="14.5" cy="34.5" r="5.94" fill="url(#sph)"/>
<circle cx="14.5" cy="34.5" r="5.44" fill="none" stroke="#c3c3c3" stroke-width="0.9" opacity="0.85"/>
<circle cx="55" cy="4" r="6.48" fill="#797979"/>
<circle cx="55" cy="4" r="6.48" fill="url(#sph)"/>
<circle cx="55" cy="4" r="5.98" fill="none" stroke="#c3c3c3" stroke-width="0.9" opacity="0.85"/>
<circle cx="72" cy="4" r="6.48" fill="#999999"/>
<circle cx="72" cy="4" r="6.48" fill="url(#sph)"/>
<circle cx="72" cy="4" r="5.98" fill="none" stroke="#c3c3c3" stroke-width="0.9" opacity="0.85"/>
<circle cx="86.5" cy="7.5" r="6.48" fill="#797979"/>
<circle cx="86.5" cy="7.5" r="6.48" fill="url(#sph)"/>
<circle cx="86.5" cy="7.5" r="5.98" fill="none" stroke="#c3c3c3" stroke-width="0.9" opacity="0.85"/>
<circle cx="77" cy="15.5" r="7.02" fill="#717171"/>
<circle cx="77" cy="15.5" r="7.02" fill="url(#sph)"/>
<circle cx="77" cy="15.5" r="6.52" fill="none" stroke="#c3c3c3" stroke-width="0.9" opacity="0.85"/>
<circle cx="89" cy="18" r="7.02" fill="#818181"/>
<circle cx="89" cy="18" r="7.02" fill="url(#sph)"/>
<circle cx="89" cy="18" r="6.52" fill="none" stroke="#c3c3c3" stroke-width="0.9" opacity="0.85"/>
<circle cx="84" cy="28" r="6.48" fill="#323232"/>
<circle cx="84" cy="28" r="6.48" fill="url(#sph)"/>
<circle cx="84" cy="28" r="5.98" fill="none" stroke="#8c8c8c" stroke-width="0.9" opacity="0.85"/>
<circle cx="95.5" cy="34.5" r="9.18" fill="#818181"/>
<circle cx="95.5" cy="34.5" r="9.18" fill="url(#sph)"/>
<circle cx="95.5" cy="34.5" r="8.68" fill="none" stroke="#c3c3c3" stroke-width="0.9" opacity="0.85"/>
<circle cx="76" cy="37" r="7.02" fill="#696969"/>
<circle cx="76" cy="37" r="7.02" fill="url(#sph)"/>
<circle cx="76" cy="37" r="6.52" fill="none" stroke="#c3c3c3" stroke-width="0.9" opacity="0.85"/>
<circle cx="110" cy="39" r="7.56" fill="#717171"/>
<circle cx="110" cy="39" r="7.56" fill="url(#sph)"/>
<circle cx="110" cy="39" r="7.06" fill="none" stroke="#c3c3c3" stroke-width="0.9" opacity="0.85"/>
<circle cx="85" cy="45" r="5.4" fill="#232323"/>
<circle cx="85" cy="45" r="5.4" fill="url(#sph)"/>
<circle cx="85" cy="45" r="4.9" fill="none" stroke="#8c8c8c" stroke-width="0.9" opacity="0.85"/>
<circle cx="122.5" cy="42" r="7.02" fill="#5a5a5a"/>
<circle cx="122.5" cy="42" r="7.02" fill="url(#sph)"/>
<circle cx="122.5" cy="42" r="6.52" fill="none" stroke="#8c8c8c" stroke-width="0.9" opacity="0.85"/>
<circle cx="68" cy="32" r="3.24" fill="#3c3c3c"/>
<circle cx="68" cy="32" r="3.24" fill="url(#sph)"/>
<circle cx="68" cy="32" r="2.74" fill="none" stroke="#8c8c8c" stroke-width="0.9" opacity="0.85"/>
<circle cx="16" cy="55" r="7.56" fill="#919191"/>
<circle cx="16" cy="55" r="7.56" fill="url(#sph)"/>
<circle cx="16" cy="55" r="7.06" fill="none" stroke="#c3c3c3" stroke-width="0.9" opacity="0.85"/>
<circle cx="8.5" cy="56" r="5.94" fill="#898989"/>
<circle cx="8.5" cy="56" r="5.94" fill="url(#sph)"/>
<circle cx="8.5" cy="56" r="5.44" fill="none" stroke="#c3c3c3" stroke-width="0.9" opacity="0.85"/>
<circle cx="21" cy="45" r="7.56" fill="#858585"/>
<circle cx="21" cy="45" r="7.56" fill="url(#sph)"/>
<circle cx="21" cy="45" r="7.06" fill="none" stroke="#c3c3c3" stroke-width="0.9" opacity="0.85"/>
<circle cx="11.5" cy="69.5" r="6.48" fill="#818181"/>
<circle cx="11.5" cy="69.5" r="6.48" fill="url(#sph)"/>
<circle cx="11.5" cy="69.5" r="5.98" fill="none" stroke="#c3c3c3" stroke-width="0.9" opacity="0.85"/>
<circle cx="25" cy="67.5" r="8.64" fill="#717171"/>
<circle cx="25" cy="67.5" r="8.64" fill="url(#sph)"/>
<circle cx="25" cy="67.5" r="8.14" fill="none" stroke="#c3c3c3" stroke-width="0.9" opacity="0.85"/>
<circle cx="41.5" cy="72.5" r="9.72" fill="#919191"/>
<circle cx="41.5" cy="72.5" r="9.72" fill="url(#sph)"/>
<circle cx="41.5" cy="72.5" r="9.22" fill="none" stroke="#c3c3c3" stroke-width="0.9" opacity="0.85"/>
<circle cx="48.5" cy="57" r="8.1" fill="#919191"/>
<circle cx="48.5" cy="57" r="8.1" fill="url(#sph)"/>
<circle cx="48.5" cy="57" r="7.6" fill="none" stroke="#c3c3c3" stroke-width="0.9" opacity="0.85"/>
<circle cx="59.5" cy="68" r="7.02" fill="#282828"/>
<circle cx="59.5" cy="68" r="7.02" fill="url(#sph)"/>
<circle cx="59.5" cy="68" r="6.52" fill="none" stroke="#8c8c8c" stroke-width="0.9" opacity="0.85"/>
<circle cx="36" cy="93" r="7.56" fill="#323232"/>
<circle cx="36" cy="93" r="7.56" fill="url(#sph)"/>
<circle cx="36" cy="93" r="7.06" fill="none" stroke="#8c8c8c" stroke-width="0.9" opacity="0.85"/>
<circle cx="50.5" cy="83" r="5.4" fill="#5a5a5a"/>
<circle cx="50.5" cy="83" r="5.4" fill="url(#sph)"/>
<circle cx="50.5" cy="83" r="4.9" fill="none" stroke="#8c8c8c" stroke-width="0.9" opacity="0.85"/>
<circle cx="62" cy="81" r="5.4" fill="#818181"/>
<circle cx="62" cy="81" r="5.4" fill="url(#sph)"/>
<circle cx="62" cy="81" r="4.9" fill="none" stroke="#c3c3c3" stroke-width="0.9" opacity="0.85"/>
<circle cx="24" cy="86" r="5.4" fill="#757575"/>
<circle cx="24" cy="86" r="5.4" fill="url(#sph)"/>
<circle cx="24" cy="86" r="4.9" fill="none" stroke="#c3c3c3" stroke-width="0.9" opacity="0.85"/>
<circle cx="75.5" cy="58.5" r="8.64" fill="#898989"/>
<circle cx="75.5" cy="58.5" r="8.64" fill="url(#sph)"/>
<circle cx="75.5" cy="58.5" r="8.14" fill="none" stroke="#c3c3c3" stroke-width="0.9" opacity="0.85"/>
<circle cx="94" cy="57.5" r="7.56" fill="#232323"/>
<circle cx="94" cy="57.5" r="7.56" fill="url(#sph)"/>
<circle cx="94" cy="57.5" r="7.06" fill="none" stroke="#8c8c8c" stroke-width="0.9" opacity="0.85"/>
<circle cx="106" cy="55.5" r="8.1" fill="#919191"/>
<circle cx="106" cy="55.5" r="8.1" fill="url(#sph)"/>
<circle cx="106" cy="55.5" r="7.6" fill="none" stroke="#c3c3c3" stroke-width="0.9" opacity="0.85"/>
<circle cx="121.5" cy="65.5" r="8.1" fill="#797979"/>
<circle cx="121.5" cy="65.5" r="8.1" fill="url(#sph)"/>
<circle cx="121.5" cy="65.5" r="7.6" fill="none" stroke="#c3c3c3" stroke-width="0.9" opacity="0.85"/>
<circle cx="72.5" cy="73" r="5.94" fill="#797979"/>
<circle cx="72.5" cy="73" r="5.94" fill="url(#sph)"/>
<circle cx="72.5" cy="73" r="5.44" fill="none" stroke="#c3c3c3" stroke-width="0.9" opacity="0.85"/>
<circle cx="83" cy="71" r="5.4" fill="#505050"/>
<circle cx="83" cy="71" r="5.4" fill="url(#sph)"/>
<circle cx="83" cy="71" r="4.9" fill="none" stroke="#8c8c8c" stroke-width="0.9" opacity="0.85"/>
<circle cx="93" cy="79" r="8.64" fill="#919191"/>
<circle cx="93" cy="79" r="8.64" fill="url(#sph)"/>
<circle cx="93" cy="79" r="8.14" fill="none" stroke="#c3c3c3" stroke-width="0.9" opacity="0.85"/>
<circle cx="104" cy="74" r="5.94" fill="#1e1e1e"/>
<circle cx="104" cy="74" r="5.94" fill="url(#sph)"/>
<circle cx="104" cy="74" r="5.44" fill="none" stroke="#8c8c8c" stroke-width="0.9" opacity="0.85"/>
<circle cx="112" cy="80" r="7.56" fill="#898989"/>
<circle cx="112" cy="80" r="7.56" fill="url(#sph)"/>
<circle cx="112" cy="80" r="7.06" fill="none" stroke="#c3c3c3" stroke-width="0.9" opacity="0.85"/>
<circle cx="125" cy="78" r="5.94" fill="#232323"/>
<circle cx="125" cy="78" r="5.94" fill="url(#sph)"/>
<circle cx="125" cy="78" r="5.44" fill="none" stroke="#8c8c8c" stroke-width="0.9" opacity="0.85"/>
<circle cx="79.5" cy="86" r="8.1" fill="#323232"/>
<circle cx="79.5" cy="86" r="8.1" fill="url(#sph)"/>
<circle cx="79.5" cy="86" r="7.6" fill="none" stroke="#8c8c8c" stroke-width="0.9" opacity="0.85"/>
<circle cx="103" cy="92" r="8.64" fill="#2d2d2d"/>
<circle cx="103" cy="92" r="8.64" fill="url(#sph)"/>
<circle cx="103" cy="92" r="8.14" fill="none" stroke="#8c8c8c" stroke-width="0.9" opacity="0.85"/>
<circle cx="121" cy="91" r="5.4" fill="#2d2d2d"/>
<circle cx="121" cy="91" r="5.4" fill="url(#sph)"/>
<circle cx="121" cy="91" r="4.9" fill="none" stroke="#8c8c8c" stroke-width="0.9" opacity="0.85"/>
<circle cx="67" cy="80" r="3.78" fill="#898989"/>
<circle cx="67" cy="80" r="3.78" fill="url(#sph)"/>
<circle cx="67" cy="80" r="3.28" fill="none" stroke="#c3c3c3" stroke-width="0.9" opacity="0.85"/>
<circle cx="69" cy="94" r="4.32" fill="#282828"/>
<circle cx="69" cy="94" r="4.32" fill="url(#sph)"/>
<circle cx="69" cy="94" r="3.82" fill="none" stroke="#8c8c8c" stroke-width="0.9" opacity="0.85"/>
<polygon points="132,80 132,98.5 110,98.5 114,93 120,88 127,82" fill="#101010"/>
<circle cx="7.2" cy="55.7" r="1" fill="#0c0c0c"/>
<circle cx="21.6" cy="68" r="1" fill="#0c0c0c"/>
<circle cx="13.4" cy="69" r="1" fill="#0c0c0c"/>
<circle cx="24.3" cy="46.5" r="1" fill="#0c0c0c"/>
<circle cx="14.1" cy="14.3" r="1" fill="#0c0c0c"/>
<circle cx="44.5" cy="14.6" r="1.3" fill="#0c0c0c"/>
<circle cx="15" cy="34.4" r="1.3" fill="#0c0c0c"/>
<circle cx="24" cy="45" r="1.2" fill="#0c0c0c"/>
<circle cx="30" cy="46" r="1.2" fill="#0c0c0c"/>
<circle cx="35" cy="55" r="5" fill="#0c0c0c"/>
<circle cx="37" cy="58" r="4" fill="#0c0c0c"/>
<circle cx="99.5" cy="24.5" r="5.5" fill="#0c0c0c"/>
<circle cx="58" cy="91" r="2.5" fill="#0c0c0c"/>
<circle cx="84" cy="12" r="1" fill="#0c0c0c"/>
<circle cx="108" cy="14" r="1" fill="#0c0c0c"/>
</g>
<rect x="0" y="0" width="132" height="1.4" fill="#262626" opacity="0.85"/>
</g>
<text x="0.7" y="14.7" font-size="14.2" fill="#fff" stroke="#fff" stroke-width="0.4">D</text>
<text x="122.5" y="92.3" font-size="4.6" text-anchor="middle" fill="#fff" stroke="#fff" stroke-width="0.12" textLength="14.5" lengthAdjust="spacingAndGlyphs">500 μm</text>
<rect x="115" y="93.5" width="15" height="1.25" fill="#fff"/>
</g>
<text x="11.3" y="132.3" font-size="14" fill="#000" stroke="#000" stroke-width="0.35">E</text>
<rect x="28" y="122.3" width="105.8" height="80.2" fill="none" stroke="#ebebeb" stroke-width="0.7"/>
<rect x="28" y="197.96" width="17.63" height="4.54" fill="#ee862b"/>
<rect x="45.63" y="170.72" width="17.63" height="31.78" fill="#ee862b"/>
<rect x="63.27" y="129.86" width="17.63" height="72.64" fill="#ee862b"/>
<rect x="80.9" y="152.56" width="17.63" height="49.94" fill="#ee862b"/>
<rect x="98.53" y="193.42" width="17.63" height="9.08" fill="#ee862b"/>
<rect x="116.17" y="197.96" width="17.63" height="4.54" fill="#ee862b"/>
<line x1="45.63" y1="197.96" x2="45.63" y2="202.5" stroke="#d9772a" stroke-width="0.6"/>
<line x1="63.27" y1="170.72" x2="63.27" y2="202.5" stroke="#d9772a" stroke-width="0.6"/>
<line x1="80.9" y1="152.56" x2="80.9" y2="202.5" stroke="#d9772a" stroke-width="0.6"/>
<line x1="98.53" y1="193.42" x2="98.53" y2="202.5" stroke="#d9772a" stroke-width="0.6"/>
<line x1="116.17" y1="197.96" x2="116.17" y2="202.5" stroke="#d9772a" stroke-width="0.6"/>
<polyline points="28,201.6 29.32,201.36 30.64,201.06 31.97,200.69 33.29,200.24 34.61,199.7 35.94,199.06 37.26,198.3 38.58,197.4 39.9,196.35 41.23,195.14 42.55,193.75 43.87,192.17 45.19,190.38 46.52,188.38 47.84,186.15 49.16,183.71 50.48,181.05 51.8,178.18 53.13,175.11 54.45,171.86 55.77,168.46 57.09,164.94 58.42,161.33 59.74,157.68 61.06,154.04 62.39,150.45 63.71,146.99 65.03,143.69 66.35,140.61 67.68,137.82 69,135.36 70.32,133.27 71.64,131.61 72.97,130.39 74.29,129.65 75.61,129.41 76.93,129.63 78.25,130.29 79.58,131.39 80.9,132.89 82.22,134.78 83.55,137.01 84.87,139.56 86.19,142.37 87.51,145.41 88.84,148.63 90.16,151.97 91.48,155.4 92.8,158.86 94.12,162.31 95.45,165.71 96.77,169.04 98.09,172.24 99.42,175.31 100.74,178.21 102.06,180.94 103.38,183.47 104.7,185.81 106.03,187.95 107.35,189.9 108.67,191.65 110,193.21 111.32,194.6 112.64,195.82 113.96,196.89 115.29,197.81 116.61,198.61 117.93,199.29 119.25,199.87 120.58,200.35 121.9,200.76 123.22,201.1 124.54,201.38 125.87,201.61 127.19,201.8 128.51,201.95 129.83,202.07 131.16,202.16 132.48,202.24 133.8,202.3" fill="none" stroke="#ff0000" stroke-width="1.3" stroke-linejoin="round"/>
<text x="26.9" y="204.25" font-size="5.7" text-anchor="end" fill="#1a1a1a" stroke="#1a1a1a" stroke-width="0.12">0</text>
<text x="26.9" y="181.55" font-size="5.7" text-anchor="end" fill="#1a1a1a" stroke="#1a1a1a" stroke-width="0.12">5</text>
<text x="26.9" y="158.85" font-size="5.7" text-anchor="end" fill="#1a1a1a" stroke="#1a1a1a" stroke-width="0.12">10</text>
<text x="26.9" y="136.15" font-size="5.7" text-anchor="end" fill="#1a1a1a" stroke="#1a1a1a" stroke-width="0.12">15</text>
<text x="28" y="209.2" font-size="6.2" text-anchor="middle" fill="#1a1a1a" stroke="#1a1a1a" stroke-width="0.12" letter-spacing="-0.1">100</text>
<text x="45.63" y="209.2" font-size="6.2" text-anchor="middle" fill="#1a1a1a" stroke="#1a1a1a" stroke-width="0.12" letter-spacing="-0.1">200</text>
<text x="63.27" y="209.2" font-size="6.2" text-anchor="middle" fill="#1a1a1a" stroke="#1a1a1a" stroke-width="0.12" letter-spacing="-0.1">300</text>
<text x="80.9" y="209.2" font-size="6.2" text-anchor="middle" fill="#1a1a1a" stroke="#1a1a1a" stroke-width="0.12" letter-spacing="-0.1">400</text>
<text x="98.53" y="209.2" font-size="6.2" text-anchor="middle" fill="#1a1a1a" stroke="#1a1a1a" stroke-width="0.12" letter-spacing="-0.1">500</text>
<text x="116.17" y="209.2" font-size="6.2" text-anchor="middle" fill="#1a1a1a" stroke="#1a1a1a" stroke-width="0.12" letter-spacing="-0.1">600</text>
<text x="133.8" y="209.2" font-size="6.2" text-anchor="middle" fill="#1a1a1a" stroke="#1a1a1a" stroke-width="0.12" letter-spacing="-0.1">700</text>
<text transform="translate(18.2,169.7) rotate(-90)" font-size="6" text-anchor="middle" fill="#1a1a1a" stroke="#1a1a1a" stroke-width="0.1">Percentage (%)</text>
<text x="81.5" y="217.3" font-size="6" text-anchor="middle" fill="#1a1a1a" stroke="#1a1a1a" stroke-width="0.12">Size (μm)</text>
<text x="144.2" y="132.3" font-size="14" fill="#000" stroke="#000" stroke-width="0.35">F</text>
<rect x="169" y="122" width="101.3" height="79.2" fill="none" stroke="#ebebeb" stroke-width="0.7"/>
<rect x="169" y="176.98" width="16.88" height="24.22" fill="#c8ea8e"/>
<rect x="185.88" y="156.22" width="16.88" height="44.98" fill="#c8ea8e"/>
<rect x="202.77" y="135.46" width="16.88" height="65.74" fill="#c8ea8e"/>
<rect x="219.65" y="183.9" width="16.88" height="17.3" fill="#c8ea8e"/>
<rect x="236.53" y="180.44" width="16.88" height="20.76" fill="#c8ea8e"/>
<line x1="185.88" y1="176.98" x2="185.88" y2="201.2" stroke="#b6d880" stroke-width="0.6"/>
<line x1="202.77" y1="156.22" x2="202.77" y2="201.2" stroke="#b6d880" stroke-width="0.6"/>
<line x1="219.65" y1="183.9" x2="219.65" y2="201.2" stroke="#b6d880" stroke-width="0.6"/>
<line x1="236.53" y1="183.9" x2="236.53" y2="201.2" stroke="#b6d880" stroke-width="0.6"/>
<polyline points="169,187.44 170.27,186.03 171.53,184.53 172.8,182.94 174.06,181.26 175.33,179.5 176.6,177.65 177.86,175.72 179.13,173.72 180.4,171.66 181.66,169.54 182.93,167.38 184.19,165.18 185.46,162.96 186.73,160.73 187.99,158.5 189.26,156.3 190.53,154.12 191.79,151.99 193.06,149.93 194.32,147.95 195.59,146.07 196.86,144.3 198.12,142.65 199.39,141.15 200.66,139.8 201.92,138.61 203.19,137.6 204.46,136.78 205.72,136.15 206.99,135.72 208.25,135.5 209.52,135.48 210.79,135.66 212.05,136.05 213.32,136.64 214.59,137.42 215.85,138.4 217.12,139.55 218.38,140.86 219.65,142.34 220.92,143.96 222.18,145.7 223.45,147.57 224.72,149.53 225.98,151.58 227.25,153.69 228.51,155.86 229.78,158.06 231.05,160.29 232.31,162.52 233.58,164.74 234.85,166.94 236.11,169.11 237.38,171.24 238.64,173.32 239.91,175.33 241.18,177.27 242.44,179.13 243.71,180.92 244.98,182.61 246.24,184.22 247.51,185.74 248.77,187.17 250.04,188.5 251.31,189.75 252.57,190.9 253.84,191.97 255.11,192.95 256.37,193.85 257.64,194.67 258.9,195.42 260.17,196.1 261.44,196.71 262.7,197.27 263.97,197.76 265.24,198.2 266.5,198.6 267.77,198.94 269.03,199.25 270.3,199.52" fill="none" stroke="#ff0000" stroke-width="1.3" stroke-linejoin="round"/>
<text x="167.9" y="202.95" font-size="5.7" text-anchor="end" fill="#1a1a1a" stroke="#1a1a1a" stroke-width="0.12">0</text>
<text x="167.9" y="185.65" font-size="5.7" text-anchor="end" fill="#1a1a1a" stroke="#1a1a1a" stroke-width="0.12">5</text>
<text x="167.9" y="168.35" font-size="5.7" text-anchor="end" fill="#1a1a1a" stroke="#1a1a1a" stroke-width="0.12">10</text>
<text x="167.9" y="151.05" font-size="5.7" text-anchor="end" fill="#1a1a1a" stroke="#1a1a1a" stroke-width="0.12">15</text>
<text x="167.9" y="133.75" font-size="5.7" text-anchor="end" fill="#1a1a1a" stroke="#1a1a1a" stroke-width="0.12">20</text>
<text x="169" y="207.5" font-size="6.2" text-anchor="middle" fill="#1a1a1a" stroke="#1a1a1a" stroke-width="0.12" letter-spacing="-0.1">100</text>
<text x="185.88" y="207.5" font-size="6.2" text-anchor="middle" fill="#1a1a1a" stroke="#1a1a1a" stroke-width="0.12" letter-spacing="-0.1">200</text>
<text x="202.77" y="207.5" font-size="6.2" text-anchor="middle" fill="#1a1a1a" stroke="#1a1a1a" stroke-width="0.12" letter-spacing="-0.1">300</text>
<text x="219.65" y="207.5" font-size="6.2" text-anchor="middle" fill="#1a1a1a" stroke="#1a1a1a" stroke-width="0.12" letter-spacing="-0.1">400</text>
<text x="236.53" y="207.5" font-size="6.2" text-anchor="middle" fill="#1a1a1a" stroke="#1a1a1a" stroke-width="0.12" letter-spacing="-0.1">500</text>
<text x="253.42" y="207.5" font-size="6.2" text-anchor="middle" fill="#1a1a1a" stroke="#1a1a1a" stroke-width="0.12" letter-spacing="-0.1">600</text>
<text x="270.3" y="207.5" font-size="6.2" text-anchor="middle" fill="#1a1a1a" stroke="#1a1a1a" stroke-width="0.12" letter-spacing="-0.1">700</text>
<text transform="translate(158,167.5) rotate(-90)" font-size="6" text-anchor="middle" fill="#1a1a1a" stroke="#1a1a1a" stroke-width="0.1">Percentage (%)</text>
<text x="214" y="216.8" font-size="6" text-anchor="middle" fill="#1a1a1a" stroke="#1a1a1a" stroke-width="0.12">Size (μm)</text>
<text x="279.0" y="132.3" font-size="14" fill="#000" stroke="#000" stroke-width="0.35">G</text>
<rect x="297" y="122" width="105.7" height="79.5" fill="none" stroke="#ebebeb" stroke-width="0.7"/>
<rect x="297" y="190.35" width="17.62" height="11.15" fill="#e3db33"/>
<rect x="314.62" y="168.05" width="17.62" height="33.45" fill="#e3db33"/>
<rect x="332.23" y="134.6" width="17.62" height="66.9" fill="#e3db33"/>
<rect x="349.85" y="145.75" width="17.62" height="55.75" fill="#e3db33"/>
<rect x="367.47" y="156.9" width="17.62" height="44.6" fill="#e3db33"/>
<rect x="385.08" y="190.35" width="17.62" height="11.15" fill="#e3db33"/>
<line x1="314.62" y1="190.35" x2="314.62" y2="201.5" stroke="#cfc636" stroke-width="0.6"/>
<line x1="332.23" y1="168.05" x2="332.23" y2="201.5" stroke="#cfc636" stroke-width="0.6"/>
<line x1="349.85" y1="145.75" x2="349.85" y2="201.5" stroke="#cfc636" stroke-width="0.6"/>
<line x1="367.47" y1="156.9" x2="367.47" y2="201.5" stroke="#cfc636" stroke-width="0.6"/>
<line x1="385.08" y1="190.35" x2="385.08" y2="201.5" stroke="#cfc636" stroke-width="0.6"/>
<polyline points="297,198.15 298.32,197.6 299.64,196.97 300.96,196.27 302.29,195.47 303.61,194.59 304.93,193.61 306.25,192.52 307.57,191.33 308.89,190.02 310.21,188.6 311.53,187.06 312.86,185.4 314.18,183.62 315.5,181.72 316.82,179.71 318.14,177.59 319.46,175.37 320.78,173.06 322.1,170.67 323.43,168.21 324.75,165.7 326.07,163.15 327.39,160.58 328.71,158.02 330.03,155.48 331.35,152.99 332.67,150.56 334,148.23 335.32,146.02 336.64,143.94 337.96,142.03 339.28,140.3 340.6,138.77 341.92,137.46 343.24,136.38 344.56,135.55 345.89,134.97 347.21,134.66 348.53,134.61 349.85,134.84 351.17,135.33 352.49,136.07 353.81,137.07 355.13,138.3 356.46,139.76 357.78,141.43 359.1,143.29 360.42,145.31 361.74,147.48 363.06,149.78 364.38,152.17 365.7,154.64 367.03,157.17 368.35,159.72 369.67,162.29 370.99,164.85 372.31,167.38 373.63,169.86 374.95,172.27 376.27,174.61 377.6,176.86 378.92,179.02 380.24,181.06 381.56,183 382.88,184.82 384.2,186.52 385.52,188.1 386.84,189.56 388.17,190.91 389.49,192.14 390.81,193.26 392.13,194.27 393.45,195.19 394.77,196.01 396.09,196.75 397.41,197.4 398.74,197.97 400.06,198.48 401.38,198.93 402.7,199.32" fill="none" stroke="#ff0000" stroke-width="1.3" stroke-linejoin="round"/>
<text x="295.9" y="203.25" font-size="5.7" text-anchor="end" fill="#1a1a1a" stroke="#1a1a1a" stroke-width="0.12">0</text>
<text x="295.9" y="180.95" font-size="5.7" text-anchor="end" fill="#1a1a1a" stroke="#1a1a1a" stroke-width="0.12">2</text>
<text x="295.9" y="158.65" font-size="5.7" text-anchor="end" fill="#1a1a1a" stroke="#1a1a1a" stroke-width="0.12">4</text>
<text x="295.9" y="136.35" font-size="5.7" text-anchor="end" fill="#1a1a1a" stroke="#1a1a1a" stroke-width="0.12">6</text>
<text x="297" y="208.4" font-size="6.2" text-anchor="middle" fill="#1a1a1a" stroke="#1a1a1a" stroke-width="0.12" letter-spacing="-0.1">200</text>
<text x="314.62" y="208.4" font-size="6.2" text-anchor="middle" fill="#1a1a1a" stroke="#1a1a1a" stroke-width="0.12" letter-spacing="-0.1">400</text>
<text x="332.23" y="208.4" font-size="6.2" text-anchor="middle" fill="#1a1a1a" stroke="#1a1a1a" stroke-width="0.12" letter-spacing="-0.1">600</text>
<text x="349.85" y="208.4" font-size="6.2" text-anchor="middle" fill="#1a1a1a" stroke="#1a1a1a" stroke-width="0.12" letter-spacing="-0.1">800</text>
<text x="367.47" y="208.4" font-size="6.2" text-anchor="middle" fill="#1a1a1a" stroke="#1a1a1a" stroke-width="0.12" letter-spacing="-0.1">1000</text>
<text x="385.08" y="208.4" font-size="6.2" text-anchor="middle" fill="#1a1a1a" stroke="#1a1a1a" stroke-width="0.12" letter-spacing="-0.1">1200</text>
<text x="402.7" y="208.4" font-size="6.2" text-anchor="middle" fill="#1a1a1a" stroke="#1a1a1a" stroke-width="0.12" letter-spacing="-0.1">1400</text>
<text transform="translate(289.5,166.2) rotate(-90)" font-size="6" text-anchor="middle" fill="#1a1a1a" stroke="#1a1a1a" stroke-width="0.1">Percentage (%)</text>
<text x="349.7" y="217.3" font-size="6" text-anchor="middle" fill="#1a1a1a" stroke="#1a1a1a" stroke-width="0.12">Size (μm)</text>
<text x="414.0" y="132.3" font-size="14" fill="#000" stroke="#000" stroke-width="0.35">H</text>
<rect x="436.9" y="122" width="102.5" height="81.1" fill="none" stroke="#ebebeb" stroke-width="0.7"/>
<rect x="436.9" y="179.1" width="20.5" height="24" fill="#00ffff"/>
<rect x="457.4" y="155.1" width="20.5" height="48" fill="#00ffff"/>
<rect x="477.9" y="135.1" width="20.5" height="68" fill="#00ffff"/>
<rect x="498.4" y="191.1" width="20.5" height="12" fill="#00ffff"/>
<rect x="518.9" y="199.1" width="20.5" height="4" fill="#00ffff"/>
<line x1="457.4" y1="179.1" x2="457.4" y2="203.1" stroke="#00e0e0" stroke-width="0.6"/>
<line x1="477.9" y1="155.1" x2="477.9" y2="203.1" stroke="#00e0e0" stroke-width="0.6"/>
<line x1="498.4" y1="191.1" x2="498.4" y2="203.1" stroke="#00e0e0" stroke-width="0.6"/>
<line x1="518.9" y1="199.1" x2="518.9" y2="203.1" stroke="#00e0e0" stroke-width="0.6"/>
<polyline points="436.9,195.47 438.18,194.36 439.46,193.14 440.74,191.79 442.02,190.32 443.31,188.71 444.59,186.98 445.87,185.12 447.15,183.14 448.43,181.03 449.71,178.81 450.99,176.48 452.27,174.06 453.56,171.56 454.84,168.99 456.12,166.37 457.4,163.73 458.68,161.09 459.96,158.47 461.24,155.89 462.52,153.39 463.81,150.98 465.09,148.69 466.37,146.56 467.65,144.6 468.93,142.84 470.21,141.31 471.49,140.01 472.77,138.97 474.06,138.2 475.34,137.71 476.62,137.51 477.9,137.59 479.18,137.97 480.46,138.63 481.74,139.56 483.02,140.76 484.31,142.2 485.59,143.87 486.87,145.75 488.15,147.82 489.43,150.05 490.71,152.41 491.99,154.88 493.27,157.43 494.56,160.04 495.84,162.68 497.12,165.32 498.4,167.95 499.68,170.54 500.96,173.07 502.24,175.52 503.52,177.89 504.81,180.16 506.09,182.31 507.37,184.34 508.65,186.25 509.93,188.04 511.21,189.69 512.49,191.22 513.77,192.61 515.06,193.89 516.34,195.04 517.62,196.08 518.9,197.02 520.18,197.85 521.46,198.59 522.74,199.24 524.02,199.81 525.31,200.31 526.59,200.75 527.87,201.12 529.15,201.44 530.43,201.72 531.71,201.96 532.99,202.16 534.27,202.32 535.56,202.46 536.84,202.58 538.12,202.68 539.4,202.76" fill="none" stroke="#ff0000" stroke-width="1.3" stroke-linejoin="round"/>
<text x="435.8" y="204.85" font-size="5.7" text-anchor="end" fill="#1a1a1a" stroke="#1a1a1a" stroke-width="0.12">0</text>
<text x="435.8" y="184.85" font-size="5.7" text-anchor="end" fill="#1a1a1a" stroke="#1a1a1a" stroke-width="0.12">5</text>
<text x="435.8" y="164.85" font-size="5.7" text-anchor="end" fill="#1a1a1a" stroke="#1a1a1a" stroke-width="0.12">10</text>
<text x="435.8" y="144.85" font-size="5.7" text-anchor="end" fill="#1a1a1a" stroke="#1a1a1a" stroke-width="0.12">15</text>
<text x="435.8" y="124.85" font-size="5.7" text-anchor="end" fill="#1a1a1a" stroke="#1a1a1a" stroke-width="0.12">20</text>
<text x="436.9" y="209.5" font-size="6.2" text-anchor="middle" fill="#1a1a1a" stroke="#1a1a1a" stroke-width="0.12" letter-spacing="-0.1">200</text>
<text x="457.4" y="209.5" font-size="6.2" text-anchor="middle" fill="#1a1a1a" stroke="#1a1a1a" stroke-width="0.12" letter-spacing="-0.1">300</text>
<text x="477.9" y="209.5" font-size="6.2" text-anchor="middle" fill="#1a1a1a" stroke="#1a1a1a" stroke-width="0.12" letter-spacing="-0.1">400</text>
<text x="498.4" y="209.5" font-size="6.2" text-anchor="middle" fill="#1a1a1a" stroke="#1a1a1a" stroke-width="0.12" letter-spacing="-0.1">500</text>
<text x="518.9" y="209.5" font-size="6.2" text-anchor="middle" fill="#1a1a1a" stroke="#1a1a1a" stroke-width="0.12" letter-spacing="-0.1">600</text>
<text x="539.4" y="209.5" font-size="6.2" text-anchor="middle" fill="#1a1a1a" stroke="#1a1a1a" stroke-width="0.12" letter-spacing="-0.1">700</text>
<text transform="translate(426.7,166) rotate(-90)" font-size="6" text-anchor="middle" fill="#1a1a1a" stroke="#1a1a1a" stroke-width="0.1">Percentage (%)</text>
<text x="486.8" y="217.3" font-size="6" text-anchor="middle" fill="#1a1a1a" stroke="#1a1a1a" stroke-width="0.12">Size (μm)</text>
<defs><radialGradient id="ball" cx="45%" cy="42%" r="60%"><stop offset="0" stop-color="#e6e6e6"/><stop offset="0.6" stop-color="#c2c2c2"/><stop offset="0.85" stop-color="#8e8e8e"/><stop offset="1" stop-color="#6e6e6e"/></radialGradient></defs>
<defs><linearGradient id="pkI" x1="0" y1="0" x2="0" y2="1"><stop offset="0" stop-color="#f2b27a"/><stop offset="0.55" stop-color="#f2b27a"/><stop offset="1" stop-color="#ee862b"/></linearGradient></defs>
<text x="11.6" y="233.0" font-size="14" fill="#000" stroke="#000" stroke-width="0.35">I</text>
<rect x="20.6" y="221" width="113.8" height="84.9" fill="none" stroke="#ebebeb" stroke-width="0.7"/>
<path d="M32.3,305.6 L32.3,302.41 L32.53,301.5 L32.75,300.52 L32.98,298.67 L33.21,296.89 L33.43,295.08 L33.66,294.09 L33.89,294.36 L34.11,294.05 L34.34,293.99 L34.56,294.82 L34.79,295.35 L35.02,296.58 L35.24,297.5 L35.47,297.68 L35.7,299.73 L35.92,299.56 L36.15,300.98 L36.38,300.47 L36.6,301.49 L36.83,301.74 L37.06,302.17 L37.28,302 L37.51,302.13 L37.74,301.48 L37.96,301.49 L38.19,302.01 L38.42,302.38 L38.64,302.01 L38.87,303.1 L39.09,303.08 L39.32,302.77 L39.55,301.96 L39.77,302.84 L40,302.51 L40.23,300.94 L40.45,301.03 L40.68,299.73 L40.91,299.58 L41.13,298.55 L41.36,298.75 L41.59,298.67 L41.81,299.12 L42.04,299.43 L42.27,301.15 L42.49,301.43 L42.72,302.55 L42.95,301.97 L43.17,303.29 L43.4,303.61 L43.62,302.68 L43.85,303.71 L44.08,303.44 L44.3,303.16 L44.53,303.09 L44.76,302.68 L44.98,303.46 L45.21,302.37 L45.44,302.7 L45.66,303.31 L45.89,301.89 L46.12,302.41 L46.34,302.92 L46.57,302.47 L46.8,302.81 L47.02,301.52 L47.25,301.85 L47.48,301.48 L47.7,300.64 L47.93,300.62 L48.15,300.21 L48.38,299.2 L48.61,299.57 L48.83,299.51 L49.06,299.33 L49.29,299.08 L49.51,299.34 L49.74,299.7 L49.97,300.91 L50.19,301.02 L50.42,301 L50.65,302.08 L50.87,302.35 L51.1,303.71 L51.33,303.92 L51.55,304.09 L51.78,304.2 L52.01,304.29 L52.23,304.34 L52.46,304.38 L52.68,304.4 L52.91,304.41 L53.14,304.42 L53.36,304.43 L53.59,304.44 L53.82,304.45 L54.04,304.45 L54.27,304.46 L54.5,304.47 L54.72,304.48 L54.95,304.48 L55.18,304.49 L55.4,304.5 L55.63,304.5 L55.86,304.51 L56.08,304.51 L56.31,304.52 L56.54,304.53 L56.76,304.53 L56.99,304.54 L57.21,304.55 L57.44,304.55 L57.67,304.56 L57.89,304.56 L58.12,304.57 L58.35,304.57 L58.57,304.58 L58.8,304.59 L59.03,304.59 L59.25,304.6 L59.48,304.6 L59.71,304.61 L59.93,304.61 L60.16,304.62 L60.39,304.62 L60.61,304.63 L60.84,304.63 L61.07,304.64 L61.29,304.64 L61.52,304.65 L61.74,304.65 L61.97,304.66 L62.2,304.66 L62.42,304.67 L62.65,304.67 L62.88,304.68 L63.1,304.68 L63.33,304.69 L63.56,304.69 L63.78,304.7 L64.01,304.7 L64.24,304.71 L64.46,304.71 L64.69,304.72 L64.92,304.72 L65.14,304.72 L65.37,304.73 L65.6,304.73 L65.82,304.74 L66.05,304.74 L66.27,304.74 L66.5,304.75 L66.73,304.75 L66.95,304.76 L67.18,304.76 L67.41,304.76 L67.63,304.77 L67.86,304.77 L68.09,304.78 L68.31,304.78 L68.54,304.78 L68.77,304.79 L68.99,304.79 L69.22,304.79 L69.45,304.8 L69.67,304.8 L69.9,304.8 L70.13,304.81 L70.35,304.81 L70.58,304.81 L70.8,304.82 L71.03,304.82 L71.26,304.82 L71.48,304.83 L71.71,304.83 L71.94,304.83 L72.16,304.84 L72.39,304.84 L72.62,304.84 L72.84,304.85 L73.07,304.85 L73.3,304.84 L73.52,304.82 L73.75,304.74 L73.98,304.55 L74.2,304.23 L74.43,303.81 L74.66,303.43 L74.88,303.27 L75.11,303.43 L75.34,303.82 L75.56,304.25 L75.79,304.57 L76.01,304.76 L76.24,304.85 L76.47,304.88 L76.69,304.89 L76.92,304.9 L77.15,304.9 L77.37,304.9 L77.6,304.9 L77.83,304.91 L78.05,304.91 L78.28,304.91 L78.51,304.91 L78.73,304.92 L78.96,304.92 L79.19,304.92 L79.41,304.92 L79.64,304.93 L79.87,304.93 L80.09,304.93 L80.32,304.93 L80.54,304.93 L80.77,304.94 L81,304.94 L81.22,304.94 L81.45,304.94 L81.68,304.94 L81.9,304.95 L82.13,304.95 L82.36,304.95 L82.58,304.95 L82.81,304.95 L83.04,304.96 L83.26,304.96 L83.49,304.96 L83.72,304.96 L83.94,304.96 L84.17,304.97 L84.4,304.97 L84.62,304.97 L84.85,304.97 L85.07,304.97 L85.3,304.98 L85.53,304.98 L85.75,304.98 L85.98,304.98 L86.21,304.98 L86.43,304.98 L86.66,304.99 L86.89,304.99 L87.11,304.99 L87.34,304.99 L87.57,304.99 L87.79,304.99 L88.02,304.99 L88.25,305 L88.47,305 L88.7,305 L88.93,305 L89.15,305 L89.38,305 L89.6,305.01 L89.83,305.01 L90.06,305.01 L90.28,305.01 L90.51,305.01 L90.74,305.01 L90.96,305.01 L91.19,305.02 L91.42,305.02 L91.64,305.02 L91.87,305.02 L92.1,305.02 L92.32,305.02 L92.55,305.02 L92.78,305.02 L93,305.03 L93.23,305.03 L93.46,305.03 L93.68,305.03 L93.91,305.03 L94.13,305.03 L94.36,305.03 L94.59,305.03 L94.81,305.04 L95.04,305.04 L95.27,305.04 L95.49,305.04 L95.72,305.04 L95.95,305.04 L96.17,305.04 L96.4,305.04 L96.63,305.04 L96.85,305.04 L97.08,305.05 L97.31,305.05 L97.53,305.05 L97.76,305.05 L97.99,305.05 L98.21,305.05 L98.44,305.05 L98.66,305.05 L98.89,305.05 L99.12,305.05 L99.34,305.06 L99.57,305.06 L99.8,305.06 L100.02,305.06 L100.25,305.06 L100.48,305.06 L100.7,305.06 L100.93,305.06 L101.16,305.06 L101.38,305.06 L101.61,305.06 L101.84,305.07 L102.06,305.07 L102.29,305.07 L102.52,305.07 L102.74,305.07 L102.97,305.07 L103.19,305.07 L103.42,305.07 L103.65,305.07 L103.87,305.07 L104.1,305.07 L104.33,305.07 L104.55,305.08 L104.78,305.08 L105.01,305.08 L105.23,305.08 L105.46,305.08 L105.69,305.08 L105.91,305.08 L106.14,305.08 L106.37,305.08 L106.59,305.08 L106.82,305.08 L107.05,305.08 L107.27,305.08 L107.5,305.08 L107.72,305.08 L107.95,305.09 L108.18,305.09 L108.4,305.09 L108.63,305.09 L108.86,305.09 L109.08,305.09 L109.31,305.09 L109.54,305.09 L109.76,305.09 L109.99,305.09 L110.22,305.09 L110.44,305.09 L110.67,305.09 L110.9,305.09 L111.12,305.09 L111.35,305.09 L111.58,305.1 L111.8,305.1 L112.03,305.1 L112.25,305.1 L112.48,305.1 L112.71,305.1 L112.93,305.1 L113.16,305.1 L113.39,305.1 L113.61,305.1 L113.84,305.1 L114.07,305.1 L114.29,305.1 L114.52,305.1 L114.75,305.1 L114.97,305.1 L115.2,305.1 L115.43,305.1 L115.65,305.1 L115.88,305.1 L116.11,305.11 L116.33,305.11 L116.56,305.11 L116.78,305.11 L117.01,305.11 L117.24,305.11 L117.46,305.11 L117.69,305.11 L117.92,305.11 L118.14,305.11 L118.37,305.11 L118.6,305.11 L118.82,305.11 L119.05,305.11 L119.28,305.11 L119.5,305.11 L119.73,305.11 L119.96,305.11 L120.18,305.11 L120.41,305.11 L120.64,305.11 L120.86,305.11 L121.09,305.11 L121.31,305.11 L121.54,305.11 L121.77,305.12 L121.99,305.12 L122.22,305.12 L122.45,305.12 L122.67,305.12 L122.9,305.12 L123.13,305.12 L123.35,305.12 L123.58,305.12 L123.81,305.12 L124.03,305.12 L124.03,305.6 Z" fill="#ee862b"/>
<path d="M32.82,305.6 L33.27,232.6 L33.87,232.6 L34.32,305.6 Z" fill="url(#pkI)"/>
<path d="M33.91,305.6 L34.36,253.6 L34.96,253.6 L35.41,305.6 Z" fill="url(#pkI)"/>
<path d="M33.09,305.6 L33.54,291.6 L34.14,291.6 L34.59,305.6 Z" fill="url(#pkI)"/>
<path d="M37.21,305.6 L37.66,297.6 L38.26,297.6 L38.71,305.6 Z" fill="url(#pkI)"/>
<path d="M40.66,305.6 L41.11,237.6 L41.71,237.6 L42.16,305.6 Z" fill="url(#pkI)"/>
<path d="M48.27,305.6 L48.72,255.6 L49.32,255.6 L49.77,305.6 Z" fill="url(#pkI)"/>
<path d="M49.72,305.6 L50.17,297.6 L50.77,297.6 L51.22,305.6 Z" fill="url(#pkI)"/>
<circle cx="33" cy="227.6" r="3.4" fill="url(#ball)"/>
<text x="33" y="229.6" font-size="5.8" font-weight="bold" text-anchor="middle" fill="#1a1a1a">C</text>
<circle cx="41.4" cy="232.8" r="3.4" fill="url(#ball)"/>
<text x="41.4" y="234.8" font-size="5.8" font-weight="bold" text-anchor="middle" fill="#1a1a1a">P</text>
<circle cx="34" cy="249.3" r="3.4" fill="url(#ball)"/>
<text x="34" y="251.3" font-size="5.8" font-weight="bold" text-anchor="middle" fill="#1a1a1a">O</text>
<ellipse cx="49.4" cy="251" rx="3.9" ry="3.3" fill="url(#ball)"/>
<text x="49.4" y="252.7" font-size="4.9" font-weight="bold" text-anchor="middle" fill="#1a1a1a" letter-spacing="-0.2">Ca</text>
<ellipse cx="34.3" cy="287.5" rx="3.9" ry="3.3" fill="url(#ball)"/>
<text x="34.3" y="289.2" font-size="4.9" font-weight="bold" text-anchor="middle" fill="#1a1a1a" letter-spacing="-0.2">Ca</text>
<ellipse cx="38.3" cy="295" rx="3.9" ry="3.3" fill="url(#ball)"/>
<text x="38.3" y="296.7" font-size="4.9" font-weight="bold" text-anchor="middle" fill="#1a1a1a" letter-spacing="-0.2">Mg</text>
<text x="32.3" y="314.0" font-size="6.8" text-anchor="middle" fill="#1a1a1a" stroke="#1a1a1a" stroke-width="0.12">0</text>
<text x="54.95" y="314.0" font-size="6.8" text-anchor="middle" fill="#1a1a1a" stroke="#1a1a1a" stroke-width="0.12">5</text>
<text x="77.6" y="314.0" font-size="6.8" text-anchor="middle" fill="#1a1a1a" stroke="#1a1a1a" stroke-width="0.12">10</text>
<text x="100.25" y="314.0" font-size="6.8" text-anchor="middle" fill="#1a1a1a" stroke="#1a1a1a" stroke-width="0.12">15</text>
<text x="122.9" y="314.0" font-size="6.8" text-anchor="middle" fill="#1a1a1a" stroke="#1a1a1a" stroke-width="0.12">20</text>
<text x="77.8" y="319.7" font-size="7" text-anchor="middle" fill="#1a1a1a" stroke="#1a1a1a" stroke-width="0.1" textLength="35.8" lengthAdjust="spacingAndGlyphs">Energy(KeV)</text>
<text transform="translate(19.7,263.4) rotate(-90)" font-size="6.6" text-anchor="middle" fill="#1a1a1a" stroke="#1a1a1a" stroke-width="0.1">Counts</text>
<text x="99.25" y="227.2" font-size="4.9" text-anchor="middle" fill="#111" stroke="#111" stroke-width="0.06" textLength="46.9" lengthAdjust="spacingAndGlyphs">Weight percentage( %)</text>
<text x="79" y="232.8" font-size="4.3" text-anchor="middle" fill="#222" stroke="#222" stroke-width="0.1">0</text>
<text x="93.05" y="232.8" font-size="4.3" text-anchor="middle" fill="#222" stroke="#222" stroke-width="0.1">10</text>
<text x="107.1" y="232.8" font-size="4.3" text-anchor="middle" fill="#222" stroke="#222" stroke-width="0.1">20</text>
<text x="121.15" y="232.8" font-size="4.3" text-anchor="middle" fill="#222" stroke="#222" stroke-width="0.1">30</text>
<line x1="79" y1="235.3" x2="79" y2="266" stroke="#e6e6e6" stroke-width="0.5"/>
<rect x="79" y="240.1" width="0.7" height="4.9" fill="#ee862b"/>
<text x="77.9" y="244.07" font-size="5.2" text-anchor="end" fill="#222">Mg</text>
<text x="80.4" y="243.55" font-size="4.0" fill="#222" stroke="#222" stroke-width="0.1" textLength="12.9" lengthAdjust="spacingAndGlyphs">0.45 %</text>
<rect x="79" y="247.3" width="19.29" height="6" fill="#ee862b"/>
<text x="77.9" y="251.67" font-size="5.2" text-anchor="end" fill="#222">P</text>
<text x="98.99" y="251.15" font-size="4.0" fill="#222" stroke="#222" stroke-width="0.1" textLength="14.6" lengthAdjust="spacingAndGlyphs">13.73 %</text>
<rect x="79" y="255.1" width="38.85" height="6.2" fill="#ee862b"/>
<text x="77.9" y="259.57" font-size="5.2" text-anchor="end" fill="#222">Ca</text>
<text x="118.55" y="259.05" font-size="4.0" fill="#222" stroke="#222" stroke-width="0.1" textLength="14.2" lengthAdjust="spacingAndGlyphs">27.65 %</text>
<defs><linearGradient id="pkJ" x1="0" y1="0" x2="0" y2="1"><stop offset="0" stop-color="#d6efae"/><stop offset="0.55" stop-color="#d6efae"/><stop offset="1" stop-color="#c8ea8e"/></linearGradient></defs>
<text x="144.6" y="233.6" font-size="14" fill="#000" stroke="#000" stroke-width="0.35">J</text>
<rect x="162.3" y="221" width="109.7" height="84.9" fill="none" stroke="#ebebeb" stroke-width="0.7"/>
<path d="M166.3,305.6 L166.3,302.52 L166.53,301.62 L166.76,300.63 L167,298.78 L167.23,297 L167.46,295.56 L167.69,293.92 L167.92,294.49 L168.16,293.75 L168.39,294.09 L168.62,294.37 L168.85,295.36 L169.08,296.15 L169.32,296.93 L169.55,298.04 L169.78,299.58 L170.01,300.32 L170.24,301.16 L170.48,301.21 L170.71,301.89 L170.94,301.42 L171.17,302.4 L171.4,302.07 L171.64,301.6 L171.87,301.76 L172.1,302.87 L172.33,302.88 L172.56,302.65 L172.8,303.18 L173.03,302.63 L173.26,303.45 L173.49,302.75 L173.72,302.39 L173.96,302.25 L174.19,302.5 L174.42,301.77 L174.65,301.33 L174.88,301.18 L175.12,301.4 L175.35,300.46 L175.58,300.17 L175.81,300.05 L176.04,300.43 L176.28,300.43 L176.51,302.06 L176.74,302.71 L176.97,303.11 L177.2,303.28 L177.44,302.95 L177.67,302.57 L177.9,303.42 L178.13,303.37 L178.36,302.9 L178.6,302.57 L178.83,303.61 L179.06,302.39 L179.29,303.21 L179.52,302.77 L179.76,302.55 L179.99,302.43 L180.22,302.52 L180.45,302.8 L180.68,301.84 L180.92,302.16 L181.15,302.01 L181.38,302.68 L181.61,301.81 L181.84,302.16 L182.08,301.62 L182.31,301.74 L182.54,301.39 L182.77,300.94 L183,300.59 L183.24,299.99 L183.47,300.39 L183.7,300.64 L183.93,300 L184.16,300.81 L184.4,301.4 L184.63,301.02 L184.86,301.3 L185.09,302.11 L185.32,302.6 L185.56,303.94 L185.79,304.08 L186.02,304.18 L186.25,304.27 L186.48,304.32 L186.72,304.36 L186.95,304.39 L187.18,304.4 L187.41,304.42 L187.64,304.42 L187.88,304.43 L188.11,304.44 L188.34,304.45 L188.57,304.45 L188.8,304.46 L189.04,304.47 L189.27,304.48 L189.5,304.48 L189.73,304.49 L189.96,304.5 L190.2,304.5 L190.43,304.51 L190.66,304.51 L190.89,304.52 L191.12,304.53 L191.36,304.53 L191.59,304.54 L191.82,304.55 L192.05,304.55 L192.28,304.56 L192.52,304.56 L192.75,304.57 L192.98,304.57 L193.21,304.58 L193.44,304.59 L193.68,304.59 L193.91,304.6 L194.14,304.6 L194.37,304.61 L194.6,304.61 L194.84,304.62 L195.07,304.62 L195.3,304.63 L195.53,304.63 L195.76,304.64 L196,304.64 L196.23,304.65 L196.46,304.65 L196.69,304.66 L196.92,304.66 L197.16,304.67 L197.39,304.67 L197.62,304.68 L197.85,304.68 L198.08,304.69 L198.32,304.69 L198.55,304.7 L198.78,304.7 L199.01,304.71 L199.24,304.71 L199.48,304.72 L199.71,304.72 L199.94,304.72 L200.17,304.73 L200.4,304.73 L200.64,304.74 L200.87,304.74 L201.1,304.74 L201.33,304.75 L201.56,304.75 L201.8,304.76 L202.03,304.76 L202.26,304.76 L202.49,304.77 L202.72,304.77 L202.96,304.78 L203.19,304.78 L203.42,304.78 L203.65,304.79 L203.88,304.79 L204.12,304.79 L204.35,304.8 L204.58,304.8 L204.81,304.8 L205.04,304.81 L205.28,304.81 L205.51,304.81 L205.74,304.82 L205.97,304.82 L206.2,304.82 L206.44,304.83 L206.67,304.83 L206.9,304.83 L207.13,304.84 L207.36,304.84 L207.6,304.84 L207.83,304.85 L208.06,304.85 L208.29,304.84 L208.52,304.82 L208.76,304.75 L208.99,304.58 L209.22,304.26 L209.45,303.83 L209.68,303.43 L209.92,303.27 L210.15,303.44 L210.38,303.84 L210.61,304.27 L210.84,304.6 L211.08,304.78 L211.31,304.86 L211.54,304.88 L211.77,304.89 L212,304.9 L212.24,304.9 L212.47,304.9 L212.7,304.9 L212.93,304.91 L213.16,304.91 L213.4,304.91 L213.63,304.91 L213.86,304.92 L214.09,304.92 L214.32,304.92 L214.56,304.92 L214.79,304.93 L215.02,304.93 L215.25,304.93 L215.48,304.93 L215.72,304.93 L215.95,304.94 L216.18,304.94 L216.41,304.94 L216.64,304.94 L216.88,304.94 L217.11,304.95 L217.34,304.95 L217.57,304.95 L217.8,304.95 L218.04,304.95 L218.27,304.96 L218.5,304.96 L218.73,304.96 L218.96,304.96 L219.2,304.96 L219.43,304.97 L219.66,304.97 L219.89,304.97 L220.12,304.97 L220.36,304.97 L220.59,304.98 L220.82,304.98 L221.05,304.98 L221.28,304.98 L221.52,304.98 L221.75,304.98 L221.98,304.99 L222.21,304.99 L222.44,304.99 L222.68,304.99 L222.91,304.99 L223.14,304.99 L223.37,304.99 L223.6,305 L223.84,305 L224.07,305 L224.3,305 L224.53,305 L224.76,305 L225,305.01 L225.23,305.01 L225.46,305.01 L225.69,305.01 L225.92,305.01 L226.16,305.01 L226.39,305.01 L226.62,305.02 L226.85,305.02 L227.08,305.02 L227.32,305.02 L227.55,305.02 L227.78,305.02 L228.01,305.02 L228.24,305.02 L228.48,305.03 L228.71,305.03 L228.94,305.03 L229.17,305.03 L229.4,305.03 L229.64,305.03 L229.87,305.03 L230.1,305.03 L230.33,305.04 L230.56,305.04 L230.8,305.04 L231.03,305.04 L231.26,305.04 L231.49,305.04 L231.72,305.04 L231.96,305.04 L232.19,305.04 L232.42,305.04 L232.65,305.05 L232.88,305.05 L233.12,305.05 L233.35,305.05 L233.58,305.05 L233.81,305.05 L234.04,305.05 L234.28,305.05 L234.51,305.05 L234.74,305.05 L234.97,305.06 L235.2,305.06 L235.44,305.06 L235.67,305.06 L235.9,305.06 L236.13,305.06 L236.36,305.06 L236.6,305.06 L236.83,305.06 L237.06,305.06 L237.29,305.06 L237.52,305.07 L237.76,305.07 L237.99,305.07 L238.22,305.07 L238.45,305.07 L238.68,305.07 L238.92,305.07 L239.15,305.07 L239.38,305.07 L239.61,305.07 L239.84,305.07 L240.08,305.07 L240.31,305.08 L240.54,305.08 L240.77,305.08 L241,305.08 L241.24,305.08 L241.47,305.08 L241.7,305.08 L241.93,305.08 L242.16,305.08 L242.4,305.08 L242.63,305.08 L242.86,305.08 L243.09,305.08 L243.32,305.08 L243.56,305.08 L243.79,305.09 L244.02,305.09 L244.25,305.09 L244.48,305.09 L244.72,305.09 L244.95,305.09 L245.18,305.09 L245.41,305.09 L245.64,305.09 L245.88,305.09 L246.11,305.09 L246.34,305.09 L246.57,305.09 L246.8,305.09 L247.04,305.09 L247.27,305.09 L247.5,305.1 L247.73,305.1 L247.96,305.1 L248.2,305.1 L248.43,305.1 L248.66,305.1 L248.89,305.1 L249.12,305.1 L249.36,305.1 L249.59,305.1 L249.82,305.1 L250.05,305.1 L250.28,305.1 L250.52,305.1 L250.75,305.1 L250.98,305.1 L251.21,305.1 L251.44,305.1 L251.68,305.1 L251.91,305.1 L252.14,305.11 L252.37,305.11 L252.6,305.11 L252.84,305.11 L253.07,305.11 L253.3,305.11 L253.53,305.11 L253.76,305.11 L254,305.11 L254.23,305.11 L254.46,305.11 L254.69,305.11 L254.92,305.11 L255.16,305.11 L255.39,305.11 L255.62,305.11 L255.85,305.11 L256.08,305.11 L256.32,305.11 L256.55,305.11 L256.78,305.11 L257.01,305.11 L257.24,305.11 L257.48,305.11 L257.71,305.11 L257.94,305.12 L258.17,305.12 L258.4,305.12 L258.64,305.12 L258.87,305.12 L259.1,305.12 L259.33,305.12 L259.56,305.12 L259.8,305.12 L260.03,305.12 L260.26,305.12 L260.26,305.6 Z" fill="#c8ea8e"/>
<path d="M166.85,305.6 L167.3,231.6 L167.9,231.6 L168.35,305.6 Z" fill="url(#pkJ)"/>
<path d="M167.96,305.6 L168.41,257.6 L169.01,257.6 L169.46,305.6 Z" fill="url(#pkJ)"/>
<path d="M167.13,305.6 L167.58,291.6 L168.18,291.6 L168.63,305.6 Z" fill="url(#pkJ)"/>
<path d="M171.35,305.6 L171.8,297.6 L172.4,297.6 L172.85,305.6 Z" fill="url(#pkJ)"/>
<path d="M174.88,305.6 L175.33,257.6 L175.93,257.6 L176.38,305.6 Z" fill="url(#pkJ)"/>
<path d="M182.67,305.6 L183.12,277.6 L183.72,277.6 L184.17,305.6 Z" fill="url(#pkJ)"/>
<path d="M184.16,305.6 L184.61,299.6 L185.21,299.6 L185.66,305.6 Z" fill="url(#pkJ)"/>
<circle cx="167.9" cy="230.7" r="3.4" fill="url(#ball)"/>
<text x="167.9" y="232.7" font-size="5.8" font-weight="bold" text-anchor="middle" fill="#1a1a1a">C</text>
<circle cx="168.4" cy="255.2" r="3.4" fill="url(#ball)"/>
<text x="168.4" y="257.2" font-size="5.8" font-weight="bold" text-anchor="middle" fill="#1a1a1a">O</text>
<circle cx="176.6" cy="254.2" r="3.4" fill="url(#ball)"/>
<text x="176.6" y="256.2" font-size="5.8" font-weight="bold" text-anchor="middle" fill="#1a1a1a">P</text>
<ellipse cx="183.8" cy="277.4" rx="3.9" ry="3.3" fill="url(#ball)"/>
<text x="183.8" y="279.1" font-size="4.9" font-weight="bold" text-anchor="middle" fill="#1a1a1a" letter-spacing="-0.2">Ca</text>
<ellipse cx="168.2" cy="287.6" rx="3.9" ry="3.3" fill="url(#ball)"/>
<text x="168.2" y="289.3" font-size="4.9" font-weight="bold" text-anchor="middle" fill="#1a1a1a" letter-spacing="-0.2">Ca</text>
<ellipse cx="171.9" cy="295.4" rx="3.9" ry="3.3" fill="url(#ball)"/>
<text x="171.9" y="297.1" font-size="4.9" font-weight="bold" text-anchor="middle" fill="#1a1a1a" letter-spacing="-0.2">Mg</text>
<text x="166.3" y="314.0" font-size="6.8" text-anchor="middle" fill="#1a1a1a" stroke="#1a1a1a" stroke-width="0.12">0</text>
<text x="189.5" y="314.0" font-size="6.8" text-anchor="middle" fill="#1a1a1a" stroke="#1a1a1a" stroke-width="0.12">5</text>
<text x="212.7" y="314.0" font-size="6.8" text-anchor="middle" fill="#1a1a1a" stroke="#1a1a1a" stroke-width="0.12">10</text>
<text x="235.9" y="314.0" font-size="6.8" text-anchor="middle" fill="#1a1a1a" stroke="#1a1a1a" stroke-width="0.12">15</text>
<text x="259.1" y="314.0" font-size="6.8" text-anchor="middle" fill="#1a1a1a" stroke="#1a1a1a" stroke-width="0.12">20</text>
<text x="216.65" y="319.3" font-size="7" text-anchor="middle" fill="#1a1a1a" stroke="#1a1a1a" stroke-width="0.1" textLength="35.5" lengthAdjust="spacingAndGlyphs">Energy(KeV)</text>
<text transform="translate(161.4,262.9) rotate(-90)" font-size="6.6" text-anchor="middle" fill="#1a1a1a" stroke="#1a1a1a" stroke-width="0.1">Counts</text>
<text x="243.75" y="226.9" font-size="4.9" text-anchor="middle" fill="#111" stroke="#111" stroke-width="0.06" textLength="40.9" lengthAdjust="spacingAndGlyphs">Weight perentage (%)</text>
<text x="223.3" y="232.7" font-size="4.3" text-anchor="middle" fill="#222" stroke="#222" stroke-width="0.1">0</text>
<text x="236.5" y="232.7" font-size="4.3" text-anchor="middle" fill="#222" stroke="#222" stroke-width="0.1">10</text>
<text x="249.7" y="232.7" font-size="4.3" text-anchor="middle" fill="#222" stroke="#222" stroke-width="0.1">20</text>
<text x="262.9" y="232.7" font-size="4.3" text-anchor="middle" fill="#222" stroke="#222" stroke-width="0.1">30</text>
<line x1="223.3" y1="235.2" x2="223.3" y2="266" stroke="#e6e6e6" stroke-width="0.5"/>
<rect x="223.3" y="240.2" width="0.77" height="3.8" fill="#c8ea8e"/>
<text x="222.2" y="243.66" font-size="4.9" text-anchor="end" fill="#222">Mg</text>
<text x="224.77" y="243.25" font-size="4.0" fill="#222" stroke="#222" stroke-width="0.1" textLength="11" lengthAdjust="spacingAndGlyphs">0.58 %</text>
<rect x="223.3" y="247.3" width="14.78" height="5.5" fill="#c8ea8e"/>
<text x="222.2" y="251.16" font-size="4.9" text-anchor="end" fill="#222">P</text>
<text x="238.78" y="250.75" font-size="4.0" fill="#222" stroke="#222" stroke-width="0.1" textLength="11" lengthAdjust="spacingAndGlyphs">11.2 %</text>
<rect x="223.3" y="254.9" width="26.53" height="6" fill="#c8ea8e"/>
<text x="222.2" y="259.46" font-size="4.9" text-anchor="end" fill="#222">Ca</text>
<text x="250.53" y="259.05" font-size="4.0" fill="#222" stroke="#222" stroke-width="0.1" textLength="11.5" lengthAdjust="spacingAndGlyphs">20.1 %</text>
<defs><linearGradient id="pkK" x1="0" y1="0" x2="0" y2="1"><stop offset="0" stop-color="#ece7a0"/><stop offset="0.55" stop-color="#ece7a0"/><stop offset="1" stop-color="#e3db33"/></linearGradient></defs>
<text x="278.6" y="233.6" font-size="14" fill="#000" stroke="#000" stroke-width="0.35">K</text>
<rect x="294.8" y="221" width="106.2" height="84.9" fill="none" stroke="#ebebeb" stroke-width="0.7"/>
<path d="M305.1,305.6 L305.1,303.59 L305.32,303.03 L305.53,302.41 L305.75,300.89 L305.97,299.36 L306.18,297.1 L306.4,296.46 L306.62,296.36 L306.83,296.75 L307.05,296.17 L307.27,295.98 L307.48,296.5 L307.7,296.87 L307.91,298.14 L308.13,298.94 L308.35,299.36 L308.56,300.33 L308.78,301.03 L309,300.95 L309.21,301.36 L309.43,302.48 L309.65,301.68 L309.86,302.89 L310.08,302.21 L310.3,302.89 L310.51,303.13 L310.73,302.92 L310.95,303.28 L311.16,302.6 L311.38,302.62 L311.6,303.62 L311.81,302.71 L312.03,303.35 L312.24,302.53 L312.46,301.54 L312.68,302.01 L312.89,300.22 L313.11,300.42 L313.33,299.71 L313.54,299.02 L313.76,299.02 L313.98,299.65 L314.19,299.47 L314.41,300.49 L314.63,300.27 L314.84,300.75 L315.06,302.43 L315.28,302.72 L315.49,303.11 L315.71,303.24 L315.93,302.79 L316.14,302.59 L316.36,302.91 L316.57,303.76 L316.79,302.57 L317.01,303.24 L317.22,303.12 L317.44,302.2 L317.66,303.24 L317.87,303.14 L318.09,302.45 L318.31,303.04 L318.52,302.9 L318.74,301.88 L318.96,302.8 L319.17,301.26 L319.39,301.91 L319.61,300.65 L319.82,301.52 L320.04,299.87 L320.25,299.7 L320.47,298.99 L320.69,299.16 L320.9,298.2 L321.12,298.67 L321.34,298.77 L321.55,298.95 L321.77,299.86 L321.99,299.44 L322.2,300.97 L322.42,300.34 L322.64,301.08 L322.85,301.39 L323.07,303.61 L323.29,303.85 L323.5,304.03 L323.72,304.17 L323.94,304.26 L324.15,304.32 L324.37,304.37 L324.58,304.39 L324.8,304.41 L325.02,304.42 L325.23,304.43 L325.45,304.44 L325.67,304.45 L325.88,304.45 L326.1,304.46 L326.32,304.47 L326.53,304.48 L326.75,304.48 L326.97,304.49 L327.18,304.5 L327.4,304.5 L327.62,304.51 L327.83,304.51 L328.05,304.52 L328.27,304.53 L328.48,304.53 L328.7,304.54 L328.91,304.55 L329.13,304.55 L329.35,304.56 L329.56,304.56 L329.78,304.57 L330,304.57 L330.21,304.58 L330.43,304.59 L330.65,304.59 L330.86,304.6 L331.08,304.6 L331.3,304.61 L331.51,304.61 L331.73,304.62 L331.95,304.62 L332.16,304.63 L332.38,304.63 L332.6,304.64 L332.81,304.64 L333.03,304.65 L333.24,304.65 L333.46,304.66 L333.68,304.66 L333.89,304.67 L334.11,304.67 L334.33,304.68 L334.54,304.68 L334.76,304.69 L334.98,304.69 L335.19,304.7 L335.41,304.7 L335.63,304.71 L335.84,304.71 L336.06,304.72 L336.28,304.72 L336.49,304.72 L336.71,304.73 L336.93,304.73 L337.14,304.74 L337.36,304.74 L337.57,304.74 L337.79,304.75 L338.01,304.75 L338.22,304.76 L338.44,304.76 L338.66,304.76 L338.87,304.77 L339.09,304.77 L339.31,304.78 L339.52,304.78 L339.74,304.78 L339.96,304.79 L340.17,304.79 L340.39,304.79 L340.61,304.8 L340.82,304.8 L341.04,304.8 L341.26,304.81 L341.47,304.81 L341.69,304.81 L341.9,304.82 L342.12,304.82 L342.34,304.82 L342.55,304.83 L342.77,304.83 L342.99,304.83 L343.2,304.84 L343.42,304.84 L343.64,304.84 L343.85,304.85 L344.07,304.85 L344.29,304.84 L344.5,304.8 L344.72,304.71 L344.94,304.5 L345.15,304.18 L345.37,303.77 L345.59,303.41 L345.8,303.27 L346.02,303.42 L346.24,303.78 L346.45,304.19 L346.67,304.53 L346.88,304.73 L347.1,304.83 L347.32,304.88 L347.53,304.89 L347.75,304.9 L347.97,304.9 L348.18,304.9 L348.4,304.9 L348.62,304.91 L348.83,304.91 L349.05,304.91 L349.27,304.91 L349.48,304.92 L349.7,304.92 L349.92,304.92 L350.13,304.92 L350.35,304.93 L350.57,304.93 L350.78,304.93 L351,304.93 L351.21,304.93 L351.43,304.94 L351.65,304.94 L351.86,304.94 L352.08,304.94 L352.3,304.94 L352.51,304.95 L352.73,304.95 L352.95,304.95 L353.16,304.95 L353.38,304.95 L353.6,304.96 L353.81,304.96 L354.03,304.96 L354.25,304.96 L354.46,304.96 L354.68,304.97 L354.9,304.97 L355.11,304.97 L355.33,304.97 L355.54,304.97 L355.76,304.98 L355.98,304.98 L356.19,304.98 L356.41,304.98 L356.63,304.98 L356.84,304.98 L357.06,304.99 L357.28,304.99 L357.49,304.99 L357.71,304.99 L357.93,304.99 L358.14,304.99 L358.36,304.99 L358.58,305 L358.79,305 L359.01,305 L359.23,305 L359.44,305 L359.66,305 L359.87,305.01 L360.09,305.01 L360.31,305.01 L360.52,305.01 L360.74,305.01 L360.96,305.01 L361.17,305.01 L361.39,305.02 L361.61,305.02 L361.82,305.02 L362.04,305.02 L362.26,305.02 L362.47,305.02 L362.69,305.02 L362.91,305.02 L363.12,305.03 L363.34,305.03 L363.56,305.03 L363.77,305.03 L363.99,305.03 L364.2,305.03 L364.42,305.03 L364.64,305.03 L364.85,305.04 L365.07,305.04 L365.29,305.04 L365.5,305.04 L365.72,305.04 L365.94,305.04 L366.15,305.04 L366.37,305.04 L366.59,305.04 L366.8,305.04 L367.02,305.05 L367.24,305.05 L367.45,305.05 L367.67,305.05 L367.89,305.05 L368.1,305.05 L368.32,305.05 L368.53,305.05 L368.75,305.05 L368.97,305.05 L369.18,305.06 L369.4,305.06 L369.62,305.06 L369.83,305.06 L370.05,305.06 L370.27,305.06 L370.48,305.06 L370.7,305.06 L370.92,305.06 L371.13,305.06 L371.35,305.06 L371.57,305.07 L371.78,305.07 L372,305.07 L372.22,305.07 L372.43,305.07 L372.65,305.07 L372.86,305.07 L373.08,305.07 L373.3,305.07 L373.51,305.07 L373.73,305.07 L373.95,305.07 L374.16,305.08 L374.38,305.08 L374.6,305.08 L374.81,305.08 L375.03,305.08 L375.25,305.08 L375.46,305.08 L375.68,305.08 L375.9,305.08 L376.11,305.08 L376.33,305.08 L376.55,305.08 L376.76,305.08 L376.98,305.08 L377.19,305.08 L377.41,305.09 L377.63,305.09 L377.84,305.09 L378.06,305.09 L378.28,305.09 L378.49,305.09 L378.71,305.09 L378.93,305.09 L379.14,305.09 L379.36,305.09 L379.58,305.09 L379.79,305.09 L380.01,305.09 L380.23,305.09 L380.44,305.09 L380.66,305.09 L380.88,305.1 L381.09,305.1 L381.31,305.1 L381.52,305.1 L381.74,305.1 L381.96,305.1 L382.17,305.1 L382.39,305.1 L382.61,305.1 L382.82,305.1 L383.04,305.1 L383.26,305.1 L383.47,305.1 L383.69,305.1 L383.91,305.1 L384.12,305.1 L384.34,305.1 L384.56,305.1 L384.77,305.1 L384.99,305.1 L385.21,305.11 L385.42,305.11 L385.64,305.11 L385.85,305.11 L386.07,305.11 L386.29,305.11 L386.5,305.11 L386.72,305.11 L386.94,305.11 L387.15,305.11 L387.37,305.11 L387.59,305.11 L387.8,305.11 L388.02,305.11 L388.24,305.11 L388.45,305.11 L388.67,305.11 L388.89,305.11 L389.1,305.11 L389.32,305.11 L389.54,305.11 L389.75,305.11 L389.97,305.11 L390.18,305.11 L390.4,305.11 L390.62,305.12 L390.83,305.12 L391.05,305.12 L391.27,305.12 L391.48,305.12 L391.7,305.12 L391.92,305.12 L392.13,305.12 L392.35,305.12 L392.57,305.12 L392.78,305.12 L392.78,305.6 Z" fill="#e3db33"/>
<path d="M305.56,305.6 L306.01,269.6 L306.61,269.6 L307.06,305.6 Z" fill="url(#pkK)"/>
<path d="M306.6,305.6 L307.05,250.6 L307.65,250.6 L308.1,305.6 Z" fill="url(#pkK)"/>
<path d="M305.82,305.6 L306.27,295.6 L306.87,295.6 L307.32,305.6 Z" fill="url(#pkK)"/>
<path d="M313.05,305.6 L313.5,237.6 L314.1,237.6 L314.55,305.6 Z" fill="url(#pkK)"/>
<path d="M320.33,305.6 L320.78,250.6 L321.38,250.6 L321.83,305.6 Z" fill="url(#pkK)"/>
<path d="M321.71,305.6 L322.16,297.6 L322.76,297.6 L323.21,305.6 Z" fill="url(#pkK)"/>
<circle cx="312.5" cy="232.4" r="3.4" fill="url(#ball)"/>
<text x="312.5" y="234.4" font-size="5.8" font-weight="bold" text-anchor="middle" fill="#1a1a1a">P</text>
<circle cx="306.6" cy="245.6" r="3.4" fill="url(#ball)"/>
<text x="306.6" y="247.6" font-size="5.8" font-weight="bold" text-anchor="middle" fill="#1a1a1a">O</text>
<ellipse cx="321.4" cy="245.4" rx="3.9" ry="3.3" fill="url(#ball)"/>
<text x="321.4" y="247.1" font-size="4.9" font-weight="bold" text-anchor="middle" fill="#1a1a1a" letter-spacing="-0.2">Ca</text>
<circle cx="305.9" cy="263.5" r="3.4" fill="url(#ball)"/>
<text x="305.9" y="265.5" font-size="5.8" font-weight="bold" text-anchor="middle" fill="#1a1a1a">C</text>
<ellipse cx="307.3" cy="294.9" rx="3.9" ry="3.3" fill="url(#ball)"/>
<text x="307.3" y="296.6" font-size="4.9" font-weight="bold" text-anchor="middle" fill="#1a1a1a" letter-spacing="-0.2">Ca</text>
<text x="305.1" y="314.0" font-size="6.8" text-anchor="middle" fill="#1a1a1a" stroke="#1a1a1a" stroke-width="0.12">0</text>
<text x="326.75" y="314.0" font-size="6.8" text-anchor="middle" fill="#1a1a1a" stroke="#1a1a1a" stroke-width="0.12">5</text>
<text x="348.4" y="314.0" font-size="6.8" text-anchor="middle" fill="#1a1a1a" stroke="#1a1a1a" stroke-width="0.12">10</text>
<text x="370.05" y="314.0" font-size="6.8" text-anchor="middle" fill="#1a1a1a" stroke="#1a1a1a" stroke-width="0.12">15</text>
<text x="391.7" y="314.0" font-size="6.8" text-anchor="middle" fill="#1a1a1a" stroke="#1a1a1a" stroke-width="0.12">20</text>
<text x="347.8" y="320.2" font-size="7" text-anchor="middle" fill="#1a1a1a" stroke="#1a1a1a" stroke-width="0.1" textLength="33.8" lengthAdjust="spacingAndGlyphs">Energy(KeV)</text>
<text transform="translate(293.9,263.5) rotate(-90)" font-size="6.6" text-anchor="middle" fill="#1a1a1a" stroke="#1a1a1a" stroke-width="0.1">Counts</text>
<text x="371.75" y="226.2" font-size="4.9" text-anchor="middle" fill="#111" stroke="#111" stroke-width="0.06" textLength="41.9" lengthAdjust="spacingAndGlyphs">Weight percentage (%)</text>
<text x="351.8" y="231.9" font-size="4.3" text-anchor="middle" fill="#222" stroke="#222" stroke-width="0.1">0</text>
<text x="363.25" y="231.9" font-size="4.3" text-anchor="middle" fill="#222" stroke="#222" stroke-width="0.1">10</text>
<text x="374.7" y="231.9" font-size="4.3" text-anchor="middle" fill="#222" stroke="#222" stroke-width="0.1">20</text>
<text x="386.15" y="231.9" font-size="4.3" text-anchor="middle" fill="#222" stroke="#222" stroke-width="0.1">30</text>
<line x1="351.8" y1="233.9" x2="386.15" y2="233.9" stroke="#e4e4e4" stroke-width="0.5"/>
<line x1="351.8" y1="234.4" x2="351.8" y2="266" stroke="#e6e6e6" stroke-width="0.5"/>
<rect x="351.8" y="240.4" width="17.64" height="7.7" fill="#e3db33"/>
<text x="350.7" y="245.96" font-size="4.6" text-anchor="end" fill="#222">P</text>
<text x="370.14" y="245.65" font-size="4.0" fill="#222" stroke="#222" stroke-width="0.1" textLength="13.5" lengthAdjust="spacingAndGlyphs">15.41 %</text>
<rect x="351.8" y="250.5" width="34.64" height="8.3" fill="#e3db33"/>
<text x="350.7" y="255.66" font-size="4.6" text-anchor="end" fill="#222">Ca</text>
<text x="387.14" y="255.35" font-size="4.0" fill="#222" stroke="#222" stroke-width="0.1" textLength="13.9" lengthAdjust="spacingAndGlyphs">30.25 %</text>
<defs><linearGradient id="pkL" x1="0" y1="0" x2="0" y2="1"><stop offset="0" stop-color="#66f4f4"/><stop offset="0.55" stop-color="#66f4f4"/><stop offset="1" stop-color="#00ffff"/></linearGradient></defs>
<text x="414.0" y="233.6" font-size="14" fill="#000" stroke="#000" stroke-width="0.35">L</text>
<rect x="432" y="221" width="107.3" height="84.9" fill="none" stroke="#ebebeb" stroke-width="0.7"/>
<path d="M443.2,305.6 L443.2,304.88 L443.41,304.71 L443.63,304.5 L443.84,303.37 L444.05,302.21 L444.26,301.14 L444.48,300.35 L444.69,299.59 L444.9,299.42 L445.12,299.44 L445.33,299.73 L445.54,299.59 L445.76,299.9 L445.97,299.14 L446.18,299.98 L446.39,300.15 L446.61,301.14 L446.82,301.08 L447.03,300.83 L447.25,301.25 L447.46,301.66 L447.67,301.73 L447.89,301.76 L448.1,303.16 L448.31,302.6 L448.52,302.8 L448.74,302.63 L448.95,303.4 L449.16,302.54 L449.38,302.68 L449.59,302.55 L449.8,303.5 L450.02,302.63 L450.23,302.56 L450.44,302.33 L450.65,301.37 L450.87,301.17 L451.08,300.04 L451.29,298.89 L451.51,299.84 L451.72,299.24 L451.93,298.58 L452.15,299.09 L452.36,299.91 L452.57,299.96 L452.78,300.47 L453,301.99 L453.21,302.17 L453.42,302.08 L453.64,302.3 L453.85,303.3 L454.06,303.25 L454.28,303.06 L454.49,303.37 L454.7,302.72 L454.91,302.73 L455.13,302.53 L455.34,303.29 L455.55,303.05 L455.77,302.6 L455.98,302.49 L456.19,301.95 L456.41,302.83 L456.62,302.47 L456.83,301.47 L457.04,301.97 L457.26,302.16 L457.47,301.22 L457.68,300.07 L457.9,299.59 L458.11,299.1 L458.32,299.65 L458.54,298.78 L458.75,298.1 L458.96,298.48 L459.17,297.85 L459.39,298.05 L459.6,299.01 L459.81,299.76 L460.03,300.45 L460.24,300.46 L460.45,301.89 L460.67,302.55 L460.88,303.55 L461.09,303.81 L461.3,304.01 L461.52,304.15 L461.73,304.25 L461.94,304.32 L462.16,304.36 L462.37,304.39 L462.58,304.41 L462.8,304.42 L463.01,304.43 L463.22,304.44 L463.43,304.45 L463.65,304.45 L463.86,304.46 L464.07,304.47 L464.29,304.48 L464.5,304.48 L464.71,304.49 L464.93,304.5 L465.14,304.5 L465.35,304.51 L465.56,304.51 L465.78,304.52 L465.99,304.53 L466.2,304.53 L466.42,304.54 L466.63,304.55 L466.84,304.55 L467.06,304.56 L467.27,304.56 L467.48,304.57 L467.69,304.57 L467.91,304.58 L468.12,304.59 L468.33,304.59 L468.55,304.6 L468.76,304.6 L468.97,304.61 L469.19,304.61 L469.4,304.62 L469.61,304.62 L469.82,304.63 L470.04,304.63 L470.25,304.64 L470.46,304.64 L470.68,304.65 L470.89,304.65 L471.1,304.66 L471.32,304.66 L471.53,304.67 L471.74,304.67 L471.95,304.68 L472.17,304.68 L472.38,304.69 L472.59,304.69 L472.81,304.7 L473.02,304.7 L473.23,304.71 L473.45,304.71 L473.66,304.72 L473.87,304.72 L474.08,304.72 L474.3,304.73 L474.51,304.73 L474.72,304.74 L474.94,304.74 L475.15,304.74 L475.36,304.75 L475.58,304.75 L475.79,304.76 L476,304.76 L476.21,304.76 L476.43,304.77 L476.64,304.77 L476.85,304.78 L477.07,304.78 L477.28,304.78 L477.49,304.79 L477.71,304.79 L477.92,304.79 L478.13,304.8 L478.34,304.8 L478.56,304.8 L478.77,304.81 L478.98,304.81 L479.2,304.81 L479.41,304.82 L479.62,304.82 L479.84,304.82 L480.05,304.83 L480.26,304.83 L480.47,304.83 L480.69,304.84 L480.9,304.84 L481.11,304.84 L481.33,304.85 L481.54,304.84 L481.75,304.83 L481.97,304.79 L482.18,304.69 L482.39,304.49 L482.6,304.16 L482.82,303.75 L483.03,303.41 L483.24,303.27 L483.46,303.41 L483.67,303.77 L483.88,304.17 L484.1,304.51 L484.31,304.72 L484.52,304.83 L484.74,304.87 L484.95,304.89 L485.16,304.9 L485.37,304.9 L485.59,304.9 L485.8,304.9 L486.01,304.91 L486.23,304.91 L486.44,304.91 L486.65,304.91 L486.87,304.92 L487.08,304.92 L487.29,304.92 L487.5,304.92 L487.72,304.93 L487.93,304.93 L488.14,304.93 L488.36,304.93 L488.57,304.93 L488.78,304.94 L489,304.94 L489.21,304.94 L489.42,304.94 L489.63,304.94 L489.85,304.95 L490.06,304.95 L490.27,304.95 L490.49,304.95 L490.7,304.95 L490.91,304.96 L491.13,304.96 L491.34,304.96 L491.55,304.96 L491.76,304.96 L491.98,304.97 L492.19,304.97 L492.4,304.97 L492.62,304.97 L492.83,304.97 L493.04,304.98 L493.26,304.98 L493.47,304.98 L493.68,304.98 L493.89,304.98 L494.11,304.98 L494.32,304.99 L494.53,304.99 L494.75,304.99 L494.96,304.99 L495.17,304.99 L495.39,304.99 L495.6,304.99 L495.81,305 L496.02,305 L496.24,305 L496.45,305 L496.66,305 L496.88,305 L497.09,305.01 L497.3,305.01 L497.52,305.01 L497.73,305.01 L497.94,305.01 L498.15,305.01 L498.37,305.01 L498.58,305.02 L498.79,305.02 L499.01,305.02 L499.22,305.02 L499.43,305.02 L499.65,305.02 L499.86,305.02 L500.07,305.02 L500.28,305.03 L500.5,305.03 L500.71,305.03 L500.92,305.03 L501.14,305.03 L501.35,305.03 L501.56,305.03 L501.78,305.03 L501.99,305.04 L502.2,305.04 L502.41,305.04 L502.63,305.04 L502.84,305.04 L503.05,305.04 L503.27,305.04 L503.48,305.04 L503.69,305.04 L503.91,305.04 L504.12,305.05 L504.33,305.05 L504.54,305.05 L504.76,305.05 L504.97,305.05 L505.18,305.05 L505.4,305.05 L505.61,305.05 L505.82,305.05 L506.04,305.05 L506.25,305.06 L506.46,305.06 L506.67,305.06 L506.89,305.06 L507.1,305.06 L507.31,305.06 L507.53,305.06 L507.74,305.06 L507.95,305.06 L508.17,305.06 L508.38,305.06 L508.59,305.07 L508.8,305.07 L509.02,305.07 L509.23,305.07 L509.44,305.07 L509.66,305.07 L509.87,305.07 L510.08,305.07 L510.3,305.07 L510.51,305.07 L510.72,305.07 L510.93,305.07 L511.15,305.08 L511.36,305.08 L511.57,305.08 L511.79,305.08 L512,305.08 L512.21,305.08 L512.43,305.08 L512.64,305.08 L512.85,305.08 L513.06,305.08 L513.28,305.08 L513.49,305.08 L513.7,305.08 L513.92,305.08 L514.13,305.08 L514.34,305.09 L514.56,305.09 L514.77,305.09 L514.98,305.09 L515.19,305.09 L515.41,305.09 L515.62,305.09 L515.83,305.09 L516.05,305.09 L516.26,305.09 L516.47,305.09 L516.69,305.09 L516.9,305.09 L517.11,305.09 L517.32,305.09 L517.54,305.09 L517.75,305.1 L517.96,305.1 L518.18,305.1 L518.39,305.1 L518.6,305.1 L518.82,305.1 L519.03,305.1 L519.24,305.1 L519.45,305.1 L519.67,305.1 L519.88,305.1 L520.09,305.1 L520.31,305.1 L520.52,305.1 L520.73,305.1 L520.95,305.1 L521.16,305.1 L521.37,305.1 L521.58,305.1 L521.8,305.1 L522.01,305.11 L522.22,305.11 L522.44,305.11 L522.65,305.11 L522.86,305.11 L523.08,305.11 L523.29,305.11 L523.5,305.11 L523.71,305.11 L523.93,305.11 L524.14,305.11 L524.35,305.11 L524.57,305.11 L524.78,305.11 L524.99,305.11 L525.21,305.11 L525.42,305.11 L525.63,305.11 L525.84,305.11 L526.06,305.11 L526.27,305.11 L526.48,305.11 L526.7,305.11 L526.91,305.11 L527.12,305.11 L527.34,305.12 L527.55,305.12 L527.76,305.12 L527.97,305.12 L528.19,305.12 L528.4,305.12 L528.61,305.12 L528.83,305.12 L529.04,305.12 L529.25,305.12 L529.47,305.12 L529.47,305.6 Z" fill="#00ffff"/>
<path d="M444.67,305.6 L445.12,269.6 L445.72,269.6 L446.17,305.6 Z" fill="url(#pkL)"/>
<path d="M443.9,305.6 L444.35,295.6 L444.95,295.6 L445.4,305.6 Z" fill="url(#pkL)"/>
<path d="M451.01,305.6 L451.46,238.6 L452.06,238.6 L452.51,305.6 Z" fill="url(#pkL)"/>
<path d="M458.17,305.6 L458.62,247.6 L459.22,247.6 L459.67,305.6 Z" fill="url(#pkL)"/>
<path d="M459.53,305.6 L459.98,297.6 L460.58,297.6 L461.03,305.6 Z" fill="url(#pkL)"/>
<circle cx="451.4" cy="234.8" r="3.4" fill="url(#ball)"/>
<text x="451.4" y="236.8" font-size="5.8" font-weight="bold" text-anchor="middle" fill="#1a1a1a">P</text>
<ellipse cx="459" cy="244.1" rx="3.9" ry="3.3" fill="url(#ball)"/>
<text x="459" y="245.8" font-size="4.9" font-weight="bold" text-anchor="middle" fill="#1a1a1a" letter-spacing="-0.2">Ca</text>
<circle cx="445.5" cy="265.7" r="3.4" fill="url(#ball)"/>
<text x="445.5" y="267.7" font-size="5.8" font-weight="bold" text-anchor="middle" fill="#1a1a1a">O</text>
<ellipse cx="445.1" cy="295.5" rx="3.9" ry="3.3" fill="url(#ball)"/>
<text x="445.1" y="297.2" font-size="4.9" font-weight="bold" text-anchor="middle" fill="#1a1a1a" letter-spacing="-0.2">Ca</text>
<text x="443.2" y="314.0" font-size="6.8" text-anchor="middle" fill="#1a1a1a" stroke="#1a1a1a" stroke-width="0.12">0</text>
<text x="464.5" y="314.0" font-size="6.8" text-anchor="middle" fill="#1a1a1a" stroke="#1a1a1a" stroke-width="0.12">5</text>
<text x="485.8" y="314.0" font-size="6.8" text-anchor="middle" fill="#1a1a1a" stroke="#1a1a1a" stroke-width="0.12">10</text>
<text x="507.1" y="314.0" font-size="6.8" text-anchor="middle" fill="#1a1a1a" stroke="#1a1a1a" stroke-width="0.12">15</text>
<text x="528.4" y="314.0" font-size="6.8" text-anchor="middle" fill="#1a1a1a" stroke="#1a1a1a" stroke-width="0.12">20</text>
<text x="487.45" y="319.8" font-size="7" text-anchor="middle" fill="#1a1a1a" stroke="#1a1a1a" stroke-width="0.1" textLength="34.5" lengthAdjust="spacingAndGlyphs">Energy(KeV)</text>
<text transform="translate(431.1,261.4) rotate(-90)" font-size="6.6" text-anchor="middle" fill="#1a1a1a" stroke="#1a1a1a" stroke-width="0.1">Counts</text>
<text x="509.7" y="226.9" font-size="4.9" text-anchor="middle" fill="#111" stroke="#111" stroke-width="0.06" textLength="39.8" lengthAdjust="spacingAndGlyphs">Weight perentage (%)</text>
<text x="489.1" y="232.8" font-size="4.3" text-anchor="middle" fill="#222" stroke="#222" stroke-width="0.1">0</text>
<text x="499.15" y="232.8" font-size="4.3" text-anchor="middle" fill="#222" stroke="#222" stroke-width="0.1">10</text>
<text x="509.2" y="232.8" font-size="4.3" text-anchor="middle" fill="#222" stroke="#222" stroke-width="0.1">20</text>
<text x="519.25" y="232.8" font-size="4.3" text-anchor="middle" fill="#222" stroke="#222" stroke-width="0.1">30</text>
<text x="529.3" y="232.8" font-size="4.3" text-anchor="middle" fill="#222" stroke="#222" stroke-width="0.1">40</text>
<line x1="489.1" y1="234.8" x2="529.3" y2="234.8" stroke="#e4e4e4" stroke-width="0.5"/>
<line x1="489.1" y1="235.3" x2="489.1" y2="268" stroke="#e6e6e6" stroke-width="0.5"/>
<rect x="489.1" y="241.2" width="19.37" height="8.3" fill="#00ffff"/>
<text x="488" y="247.06" font-size="4.6" text-anchor="end" fill="#222">P</text>
<text x="509.17" y="246.75" font-size="4.0" fill="#222" stroke="#222" stroke-width="0.1" textLength="12.9" lengthAdjust="spacingAndGlyphs">19.27 %</text>
<rect x="489.1" y="251.9" width="36.8" height="8.3" fill="#00ffff"/>
<text x="488" y="257.46" font-size="4.6" text-anchor="end" fill="#222">Ca</text>
<text x="526.6" y="257.15" font-size="4.0" fill="#222" stroke="#222" stroke-width="0.1" textLength="12.8" lengthAdjust="spacingAndGlyphs">36.62 %</text>
</svg>
</body></html>
